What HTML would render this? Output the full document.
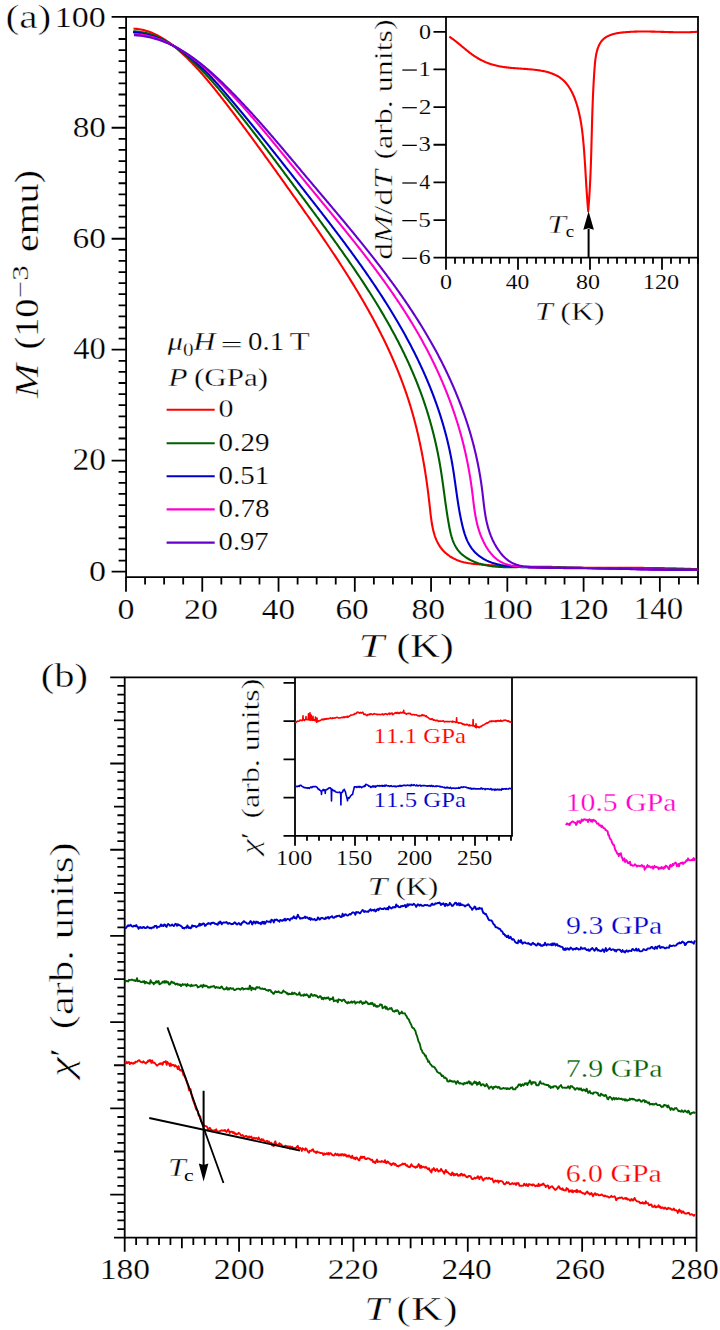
<!DOCTYPE html>
<html><head><meta charset="utf-8"><title>Figure</title>
<style>html,body{margin:0;padding:0;background:#fff;overflow:hidden;}svg{display:block;font-family:"Liberation Serif",serif;}text{font-kerning:none;}</style>
</head><body>
<svg width="720" height="1330" viewBox="0 0 720 1330">
<path d="M126.10 16.80 H698.00 V577.10 H126.10 Z" fill="none" stroke="#000" stroke-width="1.80"/>
<path d="M111.60 571.65H126.10M118.60 560.55H126.10M118.60 549.46H126.10M118.60 538.36H126.10M118.60 527.26H126.10M118.60 516.16H126.10M118.60 505.07H126.10M118.60 493.97H126.10M118.60 482.87H126.10M118.60 471.78H126.10M111.60 460.68H126.10M118.60 449.58H126.10M118.60 438.49H126.10M118.60 427.39H126.10M118.60 416.29H126.10M118.60 405.19H126.10M118.60 394.10H126.10M118.60 383.00H126.10M118.60 371.90H126.10M118.60 360.81H126.10M111.60 349.71H126.10M118.60 338.61H126.10M118.60 327.52H126.10M118.60 316.42H126.10M118.60 305.32H126.10M118.60 294.22H126.10M118.60 283.13H126.10M118.60 272.03H126.10M118.60 260.93H126.10M118.60 249.84H126.10M111.60 238.74H126.10M118.60 227.64H126.10M118.60 216.55H126.10M118.60 205.45H126.10M118.60 194.35H126.10M118.60 183.25H126.10M118.60 172.16H126.10M118.60 161.06H126.10M118.60 149.96H126.10M118.60 138.87H126.10M111.60 127.77H126.10M118.60 116.67H126.10M118.60 105.58H126.10M118.60 94.48H126.10M118.60 83.38H126.10M118.60 72.29H126.10M118.60 61.19H126.10M118.60 50.09H126.10M118.60 38.99H126.10M118.60 27.90H126.10M111.60 16.80H126.10M126.00 577.10V591.70M145.07 577.10V584.50M164.13 577.10V584.50M183.20 577.10V584.50M202.27 577.10V591.70M221.33 577.10V584.50M240.40 577.10V584.50M259.47 577.10V584.50M278.53 577.10V591.70M297.60 577.10V584.50M316.66 577.10V584.50M335.73 577.10V584.50M354.80 577.10V591.70M373.86 577.10V584.50M392.93 577.10V584.50M412.00 577.10V584.50M431.06 577.10V591.70M450.13 577.10V584.50M469.20 577.10V584.50M488.26 577.10V584.50M507.33 577.10V591.70M526.40 577.10V584.50M545.46 577.10V584.50M564.53 577.10V584.50M583.60 577.10V591.70M602.66 577.10V584.50M621.73 577.10V584.50M640.80 577.10V584.50M659.86 577.10V591.70M678.93 577.10V584.50M698.00 577.10V584.50" stroke="#000" stroke-width="1.80" fill="none"/>
<text font-family="Liberation Serif" stroke="#fff" stroke-width="0.25" font-size="30.50" fill="#000" transform="translate(88.91 581.35) scale(1.1140 1)" ><tspan >0</tspan></text>
<text font-family="Liberation Serif" stroke="#fff" stroke-width="0.25" font-size="30.50" fill="#000" transform="translate(72.43 470.38) scale(1.0965 1)" ><tspan >20</tspan></text>
<text font-family="Liberation Serif" stroke="#fff" stroke-width="0.25" font-size="30.50" fill="#000" transform="translate(73.26 359.41) scale(1.0681 1)" ><tspan >40</tspan></text>
<text font-family="Liberation Serif" stroke="#fff" stroke-width="0.25" font-size="30.50" fill="#000" transform="translate(72.46 248.44) scale(1.0953 1)" ><tspan >60</tspan></text>
<text font-family="Liberation Serif" stroke="#fff" stroke-width="0.25" font-size="30.50" fill="#000" transform="translate(72.63 137.47) scale(1.0896 1)" ><tspan >80</tspan></text>
<text font-family="Liberation Serif" stroke="#fff" stroke-width="0.25" font-size="30.50" fill="#000" transform="translate(54.81 26.50) scale(1.1167 1)" ><tspan >100</tspan></text>
<text font-family="Liberation Serif" stroke="#fff" stroke-width="0.25" font-size="30.50" fill="#000" transform="translate(117.61 618.70) scale(1.1140 1)" ><tspan >0</tspan></text>
<text font-family="Liberation Serif" stroke="#fff" stroke-width="0.25" font-size="30.50" fill="#000" transform="translate(184.11 618.70) scale(1.1108 1)" ><tspan >20</tspan></text>
<text font-family="Liberation Serif" stroke="#fff" stroke-width="0.25" font-size="30.50" fill="#000" transform="translate(261.85 618.70) scale(1.0872 1)" ><tspan >40</tspan></text>
<text font-family="Liberation Serif" stroke="#fff" stroke-width="0.25" font-size="30.50" fill="#000" transform="translate(335.47 618.70) scale(1.0918 1)" ><tspan >60</tspan></text>
<text font-family="Liberation Serif" stroke="#fff" stroke-width="0.25" font-size="30.50" fill="#000" transform="translate(411.52 618.70) scale(1.1037 1)" ><tspan >80</tspan></text>
<text font-family="Liberation Serif" stroke="#fff" stroke-width="0.25" font-size="30.50" fill="#000" transform="translate(481.60 618.70) scale(1.1191 1)" ><tspan >100</tspan></text>
<text font-family="Liberation Serif" stroke="#fff" stroke-width="0.25" font-size="30.50" fill="#000" transform="translate(557.63 618.70) scale(1.1096 1)" ><tspan >120</tspan></text>
<text font-family="Liberation Serif" stroke="#fff" stroke-width="0.25" font-size="30.50" fill="#000" transform="translate(633.82 618.70) scale(1.0762 1)" ><tspan >140</tspan></text>
<text font-family="Liberation Serif" stroke="#fff" stroke-width="0.46" font-size="33.00" fill="#000" transform="translate(5.38 28.00) scale(1.2572 1)" ><tspan >(a)</tspan></text>
<text font-family="Liberation Serif" stroke="#fff" stroke-width="0.50" font-size="34.00" fill="#000" transform="translate(358.39 657.00) scale(1.3534 1)" ><tspan font-style="italic">T</tspan></text>
<text font-family="Liberation Serif" stroke="#fff" stroke-width="0.37" font-size="34.00" fill="#000" transform="translate(396.49 657.00) scale(1.2101 1)" ><tspan >(K)</tspan></text>
<text font-family="Liberation Serif" stroke="#fff" stroke-width="0.37" font-size="34.00" fill="#000" transform="translate(38.20 398.12) rotate(-90) scale(1.2120 1)" ><tspan font-style="italic">M</tspan></text>
<text font-family="Liberation Serif" stroke="#fff" stroke-width="0.25" font-size="34.00" fill="#000" transform="translate(38.20 349.58) rotate(-90) scale(1.1238 1)" ><tspan >(10</tspan></text>
<text font-family="Liberation Serif" stroke="#fff" stroke-width="0.31" font-size="23.50" fill="#000" transform="translate(28.30 298.15) rotate(-90) scale(1.3223 1)" ><tspan >−3</tspan></text>
<text font-family="Liberation Serif" stroke="#fff" stroke-width="0.30" font-size="34.00" fill="#000" transform="translate(38.20 252.06) rotate(-90) scale(1.1755 1)" ><tspan >emu)</tspan></text>
<path d="M133.51 28.58 L135.00 28.69 L136.48 28.84 L137.94 29.02 L139.39 29.25 L140.83 29.51 L142.26 29.81 L143.67 30.14 L145.08 30.51 L146.47 30.91 L147.84 31.35 L149.21 31.82 L150.57 32.31 L151.91 32.84 L153.24 33.40 L154.56 33.99 L155.88 34.61 L157.17 35.25 L158.46 35.92 L159.74 36.61 L161.01 37.33 L162.27 38.07 L163.52 38.84 L164.76 39.62 L165.98 40.43 L167.20 41.26 L168.41 42.10 L169.61 42.97 L170.80 43.85 L171.98 44.75 L173.16 45.66 L174.32 46.59 L175.47 47.54 L176.62 48.49 L177.76 49.46 L178.89 50.44 L180.01 51.43 L181.13 52.43 L182.23 53.44 L183.33 54.45 L184.42 55.48 L185.51 56.51 L186.58 57.54 L187.65 58.59 L188.72 59.64 L189.77 60.69 L190.82 61.76 L191.87 62.83 L192.90 63.90 L193.93 64.98 L194.96 66.07 L195.98 67.16 L196.99 68.25 L198.00 69.35 L199.00 70.46 L200.00 71.57 L200.99 72.69 L201.98 73.80 L202.96 74.93 L203.93 76.06 L204.91 77.19 L205.87 78.32 L206.84 79.46 L207.80 80.60 L208.75 81.75 L209.70 82.90 L210.65 84.05 L211.60 85.20 L212.54 86.36 L213.48 87.52 L214.41 88.68 L215.34 89.84 L216.27 91.01 L217.20 92.17 L218.12 93.34 L219.04 94.51 L219.96 95.68 L220.88 96.86 L221.79 98.03 L222.70 99.20 L223.62 100.38 L224.53 101.55 L225.43 102.73 L226.34 103.90 L227.25 105.08 L228.15 106.26 L229.05 107.43 L229.95 108.61 L230.85 109.79 L231.75 110.97 L232.65 112.15 L233.54 113.32 L234.44 114.50 L235.33 115.68 L236.22 116.86 L237.11 118.05 L238.00 119.23 L238.89 120.41 L239.78 121.59 L240.67 122.77 L241.55 123.96 L242.43 125.14 L243.32 126.32 L244.20 127.51 L245.08 128.69 L245.96 129.88 L246.84 131.06 L247.72 132.25 L248.59 133.44 L249.47 134.62 L250.35 135.81 L251.22 137.00 L252.09 138.19 L252.97 139.37 L253.84 140.56 L254.71 141.75 L255.58 142.94 L256.45 144.13 L257.32 145.33 L258.19 146.52 L259.06 147.71 L259.92 148.90 L260.79 150.09 L261.66 151.29 L262.52 152.48 L263.39 153.68 L264.25 154.87 L265.11 156.07 L265.98 157.26 L266.84 158.46 L267.70 159.65 L268.57 160.85 L269.43 162.05 L270.29 163.25 L271.15 164.44 L272.01 165.64 L272.87 166.84 L273.73 168.04 L274.59 169.24 L275.45 170.44 L276.31 171.65 L277.17 172.85 L278.03 174.05 L278.89 175.25 L279.75 176.46 L280.60 177.66 L281.46 178.86 L282.32 180.07 L283.18 181.27 L284.04 182.48 L284.90 183.69 L285.76 184.89 L286.61 186.10 L287.47 187.31 L288.33 188.52 L289.19 189.73 L290.05 190.93 L290.91 192.14 L291.77 193.36 L292.63 194.57 L293.49 195.78 L294.35 196.99 L295.21 198.20 L296.07 199.41 L296.93 200.63 L297.79 201.84 L298.65 203.06 L299.51 204.27 L300.37 205.49 L301.22 206.70 L302.08 207.92 L302.94 209.14 L303.80 210.36 L304.66 211.58 L305.52 212.80 L306.37 214.02 L307.23 215.24 L308.09 216.46 L308.94 217.68 L309.80 218.90 L310.65 220.13 L311.51 221.35 L312.36 222.58 L313.22 223.80 L314.07 225.03 L314.92 226.26 L315.77 227.48 L316.62 228.71 L317.47 229.94 L318.32 231.17 L319.17 232.40 L320.01 233.64 L320.86 234.87 L321.70 236.10 L322.55 237.34 L323.39 238.57 L324.23 239.81 L325.07 241.04 L325.91 242.28 L326.75 243.52 L327.59 244.76 L328.42 246.00 L329.26 247.24 L330.09 248.48 L330.92 249.72 L331.75 250.97 L332.58 252.21 L333.41 253.46 L334.23 254.70 L335.06 255.95 L335.88 257.20 L336.70 258.45 L337.52 259.70 L338.34 260.95 L339.15 262.20 L339.97 263.45 L340.78 264.71 L341.59 265.96 L342.40 267.22 L343.21 268.48 L344.01 269.73 L344.82 270.99 L345.62 272.25 L346.42 273.51 L347.21 274.78 L348.01 276.04 L348.80 277.30 L349.59 278.57 L350.38 279.83 L351.17 281.10 L351.95 282.37 L352.73 283.64 L353.51 284.91 L354.29 286.18 L355.07 287.46 L355.84 288.73 L356.61 290.01 L357.38 291.28 L358.14 292.56 L358.91 293.84 L359.67 295.12 L360.42 296.40 L361.18 297.68 L361.93 298.97 L362.68 300.25 L363.43 301.54 L364.17 302.82 L364.91 304.11 L365.65 305.40 L366.39 306.69 L367.12 307.99 L367.85 309.28 L368.58 310.57 L369.30 311.87 L370.02 313.17 L370.74 314.47 L371.45 315.77 L372.16 317.07 L372.87 318.37 L373.58 319.68 L374.28 320.98 L374.98 322.29 L375.67 323.60 L376.36 324.90 L377.05 326.22 L377.74 327.53 L378.42 328.84 L379.10 330.16 L379.77 331.47 L380.44 332.79 L381.11 334.11 L381.77 335.43 L382.43 336.75 L383.09 338.08 L383.74 339.40 L384.39 340.73 L385.04 342.06 L385.68 343.39 L386.31 344.72 L386.95 346.05 L387.58 347.38 L388.20 348.72 L388.83 350.06 L389.44 351.40 L390.06 352.74 L390.67 354.08 L391.27 355.42 L391.87 356.77 L392.47 358.11 L393.06 359.46 L393.65 360.81 L394.24 362.16 L394.82 363.51 L395.39 364.87 L395.96 366.22 L396.53 367.58 L397.09 368.94 L397.65 370.30 L398.20 371.67 L398.75 373.03 L399.30 374.40 L399.84 375.76 L400.37 377.13 L400.90 378.50 L401.43 379.88 L401.95 381.25 L402.46 382.63 L402.98 384.00 L403.48 385.38 L403.98 386.77 L404.48 388.15 L404.97 389.53 L405.46 390.92 L405.94 392.31 L406.42 393.70 L406.89 395.09 L407.35 396.49 L407.81 397.88 L408.27 399.28 L408.72 400.68 L409.17 402.08 L409.61 403.48 L410.04 404.89 L410.47 406.29 L410.90 407.70 L411.32 409.11 L411.73 410.53 L412.14 411.94 L412.55 413.36 L412.95 414.77 L413.34 416.19 L413.73 417.61 L414.12 419.04 L414.50 420.46 L414.87 421.89 L415.25 423.32 L415.61 424.75 L415.98 426.18 L416.33 427.61 L416.69 429.05 L417.04 430.49 L417.38 431.93 L417.72 433.37 L418.05 434.81 L418.39 436.25 L418.71 437.70 L419.04 439.15 L419.35 440.60 L419.67 442.05 L419.98 443.50 L420.28 444.96 L420.58 446.42 L420.88 447.88 L421.18 449.34 L421.47 450.80 L421.75 452.26 L422.03 453.73 L422.31 455.20 L422.59 456.67 L422.86 458.14 L423.12 459.61 L423.39 461.09 L423.64 462.56 L423.90 464.04 L424.15 465.52 L424.40 467.00 L424.65 468.49 L424.89 469.97 L425.12 471.46 L425.36 472.95 L425.59 474.44 L425.82 475.93 L426.04 477.42 L426.26 478.92 L426.48 480.42 L426.69 481.92 L426.91 483.42 L427.11 484.92 L427.32 486.42 L427.52 487.93 L427.72 489.44 L427.92 490.95 L428.11 492.46 L428.30 493.97 L428.49 495.49 L428.67 497.00 L428.85 498.52 L429.03 500.04 L429.21 501.56 L429.38 503.09 L429.55 504.61 L429.72 506.14 L429.89 507.67 L430.05 509.19 L430.22 510.72 L430.39 512.25 L430.56 513.77 L430.74 515.29 L430.93 516.80 L431.12 518.31 L431.33 519.81 L431.55 521.30 L431.78 522.78 L432.02 524.25 L432.28 525.71 L432.56 527.15 L432.86 528.59 L433.18 530.00 L433.53 531.40 L433.90 532.79 L434.29 534.15 L434.71 535.50 L435.16 536.82 L435.64 538.13 L436.15 539.41 L436.70 540.67 L437.28 541.90 L437.89 543.11 L438.55 544.29 L439.24 545.44 L439.98 546.56 L440.76 547.65 L441.58 548.71 L442.44 549.74 L443.35 550.74 L444.29 551.70 L445.27 552.64 L446.29 553.53 L447.35 554.39 L448.43 555.22 L449.56 556.01 L450.71 556.77 L451.89 557.48 L453.10 558.16 L454.33 558.81 L455.59 559.41 L456.88 559.98 L458.19 560.50 L459.51 560.99 L460.86 561.43 L462.23 561.83 L463.61 562.20 L465.01 562.52 L466.42 562.81 L467.85 563.07 L469.28 563.29 L470.73 563.50 L472.18 563.68 L473.64 563.84 L475.11 563.99 L476.58 564.13 L478.05 564.26 L479.53 564.39 L481.00 564.51 L482.48 564.63 L483.95 564.75 L485.43 564.86 L486.91 564.98 L488.39 565.09 L489.86 565.19 L491.34 565.29 L492.82 565.40 L494.30 565.49 L495.78 565.59 L497.26 565.68 L498.74 565.77 L500.23 565.86 L501.71 565.95 L503.19 566.03 L504.68 566.11 L506.16 566.19 L507.64 566.26 L509.13 566.34 L510.61 566.41 L512.10 566.48 L513.59 566.54 L515.07 566.61 L516.56 566.67 L518.05 566.73 L519.53 566.79 L521.02 566.84 L522.51 566.90 L524.00 566.95 L525.49 567.00 L526.98 567.05 L528.47 567.10 L529.96 567.14 L531.45 567.18 L532.94 567.23 L534.43 567.27 L535.92 567.30 L537.41 567.34 L538.90 567.37 L540.39 567.41 L541.88 567.44 L543.37 567.47 L544.87 567.50 L546.36 567.53 L547.85 567.55 L549.34 567.58 L550.84 567.60 L552.33 567.62 L553.82 567.64 L555.32 567.66 L556.81 567.68 L558.30 567.70 L559.80 567.71 L561.29 567.73 L562.78 567.74 L564.28 567.75 L565.77 567.76 L567.27 567.78 L568.76 567.79 L570.25 567.79 L571.75 567.80 L573.24 567.81 L574.74 567.82 L576.23 567.82 L577.72 567.83 L579.22 567.83 L580.71 567.84 L582.20 567.84 L583.70 567.84 L585.19 567.85 L586.68 567.85 L588.18 567.85 L589.67 567.85 L591.16 567.85 L592.66 567.85 L594.15 567.85 L595.64 567.85 L597.14 567.85 L598.63 567.85 L600.12 567.85 L601.61 567.85 L603.10 567.85 L604.60 567.85 L606.09 567.85 L607.58 567.84 L609.07 567.84 L610.56 567.84 L612.05 567.84 L613.54 567.84 L615.03 567.84 L616.52 567.84 L618.01 567.84 L619.50 567.84 L620.99 567.84 L622.47 567.84 L623.96 567.84 L625.45 567.85 L626.94 567.85 L628.42 567.85 L629.91 567.85 L631.40 567.86 L632.88 567.86 L634.37 567.87 L635.85 567.87 L637.34 567.88 L638.82 567.89 L640.30 567.90 L641.79 567.90 L643.27 567.91 L644.75 567.93 L646.23 567.94 L647.71 567.95 L649.19 567.96 L650.67 567.98 L652.15 567.99 L653.63 568.01 L655.11 568.03 L656.59 568.05 L658.07 568.07 L659.54 568.09 L661.02 568.11 L662.49 568.14 L663.97 568.16 L665.44 568.19 L666.92 568.22 L668.39 568.25 L669.86 568.28 L671.33 568.31 L672.80 568.35 L674.27 568.38 L675.74 568.42 L677.21 568.46 L678.68 568.50 L680.15 568.54 L681.61 568.59 L683.08 568.63 L684.55 568.68 L686.01 568.73 L687.47 568.78 L688.94 568.84 L690.40 568.89 L691.86 568.95 L693.32 569.01 L694.78 569.07 L696.24 569.14 L697.70 569.21" fill="none" stroke="#ff0000" stroke-width="2.1" stroke-linejoin="round"/>
<path d="M133.35 31.26 L134.86 31.33 L136.35 31.43 L137.84 31.57 L139.31 31.74 L140.77 31.95 L142.22 32.19 L143.66 32.47 L145.08 32.78 L146.50 33.11 L147.90 33.48 L149.29 33.88 L150.68 34.31 L152.05 34.77 L153.41 35.25 L154.76 35.76 L156.10 36.30 L157.43 36.86 L158.75 37.45 L160.06 38.06 L161.36 38.70 L162.65 39.36 L163.93 40.04 L165.21 40.74 L166.47 41.46 L167.72 42.20 L168.97 42.95 L170.20 43.73 L171.43 44.52 L172.65 45.33 L173.85 46.16 L175.06 47.00 L176.25 47.85 L177.43 48.72 L178.61 49.60 L179.78 50.50 L180.94 51.40 L182.09 52.31 L183.24 53.24 L184.37 54.17 L185.50 55.11 L186.63 56.06 L187.74 57.02 L188.85 57.99 L189.95 58.96 L191.05 59.94 L192.14 60.93 L193.22 61.93 L194.30 62.93 L195.37 63.94 L196.43 64.96 L197.49 65.98 L198.54 67.01 L199.59 68.04 L200.63 69.09 L201.66 70.13 L202.69 71.19 L203.72 72.25 L204.74 73.31 L205.75 74.38 L206.76 75.46 L207.77 76.54 L208.77 77.62 L209.77 78.71 L210.76 79.80 L211.75 80.90 L212.73 82.00 L213.71 83.11 L214.68 84.21 L215.66 85.33 L216.62 86.44 L217.59 87.56 L218.55 88.68 L219.51 89.81 L220.46 90.93 L221.42 92.06 L222.37 93.19 L223.31 94.33 L224.26 95.46 L225.20 96.60 L226.14 97.74 L227.07 98.88 L228.01 100.02 L228.94 101.17 L229.87 102.31 L230.80 103.46 L231.73 104.60 L232.66 105.75 L233.58 106.89 L234.50 108.04 L235.42 109.19 L236.34 110.34 L237.26 111.48 L238.18 112.63 L239.09 113.78 L240.01 114.93 L240.92 116.09 L241.83 117.24 L242.74 118.39 L243.65 119.54 L244.56 120.69 L245.46 121.85 L246.37 123.00 L247.27 124.16 L248.17 125.31 L249.08 126.47 L249.98 127.63 L250.88 128.78 L251.77 129.94 L252.67 131.10 L253.57 132.26 L254.46 133.42 L255.35 134.58 L256.25 135.74 L257.14 136.90 L258.03 138.06 L258.92 139.22 L259.81 140.38 L260.70 141.54 L261.59 142.71 L262.47 143.87 L263.36 145.03 L264.24 146.20 L265.13 147.36 L266.01 148.53 L266.90 149.69 L267.78 150.86 L268.66 152.03 L269.54 153.19 L270.42 154.36 L271.30 155.53 L272.18 156.70 L273.06 157.86 L273.94 159.03 L274.82 160.20 L275.70 161.37 L276.58 162.54 L277.45 163.71 L278.33 164.88 L279.21 166.06 L280.09 167.23 L280.96 168.40 L281.84 169.57 L282.71 170.74 L283.59 171.92 L284.47 173.09 L285.34 174.26 L286.22 175.44 L287.09 176.61 L287.97 177.79 L288.84 178.96 L289.72 180.14 L290.59 181.32 L291.47 182.49 L292.34 183.67 L293.22 184.85 L294.09 186.02 L294.97 187.20 L295.85 188.38 L296.72 189.56 L297.60 190.73 L298.48 191.91 L299.35 193.09 L300.23 194.27 L301.11 195.45 L301.99 196.63 L302.86 197.81 L303.74 198.99 L304.62 200.17 L305.50 201.35 L306.38 202.54 L307.26 203.72 L308.13 204.90 L309.01 206.08 L309.89 207.27 L310.77 208.45 L311.65 209.63 L312.53 210.82 L313.40 212.00 L314.28 213.19 L315.16 214.38 L316.04 215.56 L316.91 216.75 L317.79 217.94 L318.67 219.12 L319.54 220.31 L320.42 221.50 L321.29 222.69 L322.17 223.88 L323.04 225.07 L323.91 226.26 L324.78 227.46 L325.66 228.65 L326.53 229.84 L327.40 231.04 L328.27 232.23 L329.14 233.43 L330.00 234.62 L330.87 235.82 L331.74 237.02 L332.60 238.21 L333.47 239.41 L334.33 240.61 L335.19 241.81 L336.05 243.01 L336.91 244.21 L337.77 245.42 L338.63 246.62 L339.49 247.82 L340.34 249.03 L341.20 250.24 L342.05 251.44 L342.90 252.65 L343.75 253.86 L344.60 255.07 L345.45 256.28 L346.30 257.49 L347.14 258.70 L347.98 259.91 L348.83 261.13 L349.67 262.34 L350.51 263.56 L351.34 264.77 L352.18 265.99 L353.01 267.21 L353.84 268.43 L354.67 269.65 L355.50 270.87 L356.33 272.10 L357.15 273.32 L357.97 274.55 L358.79 275.77 L359.61 277.00 L360.43 278.23 L361.24 279.46 L362.06 280.69 L362.87 281.92 L363.67 283.15 L364.48 284.38 L365.28 285.62 L366.09 286.86 L366.89 288.09 L367.68 289.33 L368.48 290.57 L369.27 291.81 L370.06 293.06 L370.85 294.30 L371.63 295.54 L372.41 296.79 L373.19 298.04 L373.97 299.29 L374.75 300.54 L375.52 301.79 L376.29 303.04 L377.05 304.29 L377.82 305.55 L378.58 306.81 L379.34 308.07 L380.09 309.32 L380.85 310.59 L381.60 311.85 L382.34 313.11 L383.09 314.38 L383.83 315.64 L384.57 316.91 L385.30 318.18 L386.03 319.45 L386.76 320.73 L387.49 322.00 L388.21 323.28 L388.93 324.55 L389.64 325.83 L390.36 327.11 L391.07 328.39 L391.77 329.68 L392.47 330.96 L393.17 332.25 L393.87 333.54 L394.56 334.83 L395.25 336.12 L395.93 337.41 L396.61 338.71 L397.29 340.00 L397.97 341.30 L398.64 342.60 L399.30 343.90 L399.97 345.21 L400.63 346.51 L401.28 347.82 L401.93 349.13 L402.58 350.44 L403.22 351.75 L403.86 353.06 L404.50 354.38 L405.13 355.70 L405.76 357.02 L406.38 358.34 L407.00 359.66 L407.61 360.99 L408.23 362.31 L408.83 363.64 L409.43 364.97 L410.03 366.30 L410.63 367.64 L411.22 368.98 L411.80 370.31 L412.38 371.65 L412.96 373.00 L413.53 374.34 L414.10 375.69 L414.66 377.03 L415.22 378.38 L415.77 379.74 L416.32 381.09 L416.86 382.45 L417.40 383.81 L417.94 385.17 L418.47 386.53 L418.99 387.89 L419.51 389.26 L420.03 390.63 L420.54 392.00 L421.04 393.37 L421.54 394.75 L422.04 396.13 L422.53 397.51 L423.02 398.89 L423.50 400.27 L423.97 401.66 L424.44 403.05 L424.91 404.44 L425.37 405.83 L425.82 407.22 L426.27 408.62 L426.72 410.02 L427.16 411.42 L427.59 412.82 L428.02 414.22 L428.45 415.63 L428.87 417.03 L429.28 418.44 L429.69 419.86 L430.10 421.27 L430.50 422.68 L430.89 424.10 L431.28 425.52 L431.67 426.94 L432.05 428.36 L432.42 429.78 L432.79 431.21 L433.16 432.64 L433.52 434.07 L433.87 435.50 L434.22 436.93 L434.57 438.36 L434.91 439.80 L435.24 441.23 L435.57 442.67 L435.90 444.11 L436.22 445.55 L436.53 446.99 L436.84 448.44 L437.14 449.88 L437.44 451.33 L437.74 452.78 L438.03 454.23 L438.31 455.68 L438.59 457.13 L438.87 458.58 L439.14 460.04 L439.40 461.49 L439.66 462.95 L439.91 464.41 L440.16 465.87 L440.41 467.33 L440.65 468.79 L440.88 470.26 L441.11 471.72 L441.34 473.18 L441.56 474.65 L441.78 476.12 L442.00 477.58 L442.21 479.05 L442.42 480.52 L442.63 481.99 L442.83 483.46 L443.04 484.93 L443.24 486.39 L443.44 487.86 L443.64 489.33 L443.84 490.80 L444.04 492.27 L444.23 493.74 L444.43 495.21 L444.63 496.67 L444.83 498.14 L445.03 499.61 L445.23 501.07 L445.44 502.54 L445.64 504.00 L445.85 505.47 L446.06 506.93 L446.27 508.39 L446.48 509.85 L446.70 511.31 L446.92 512.77 L447.14 514.22 L447.37 515.68 L447.60 517.13 L447.84 518.58 L448.08 520.03 L448.33 521.48 L448.58 522.92 L448.84 524.37 L449.10 525.81 L449.37 527.25 L449.65 528.68 L449.94 530.11 L450.25 531.52 L450.58 532.93 L450.92 534.33 L451.29 535.71 L451.68 537.08 L452.11 538.43 L452.56 539.76 L453.04 541.08 L453.56 542.37 L454.11 543.63 L454.71 544.88 L455.35 546.09 L456.03 547.27 L456.76 548.43 L457.54 549.55 L458.37 550.64 L459.26 551.69 L460.21 552.71 L461.21 553.69 L462.26 554.63 L463.36 555.53 L464.51 556.39 L465.69 557.22 L466.91 558.01 L468.16 558.76 L469.44 559.48 L470.74 560.15 L472.06 560.79 L473.40 561.39 L474.75 561.96 L476.10 562.48 L477.48 562.98 L478.86 563.44 L480.25 563.86 L481.65 564.25 L483.05 564.62 L484.47 564.95 L485.90 565.26 L487.33 565.53 L488.77 565.79 L490.22 566.01 L491.68 566.22 L493.14 566.40 L494.61 566.55 L496.08 566.69 L497.56 566.81 L499.05 566.91 L500.53 566.99 L502.03 567.06 L503.52 567.11 L505.02 567.15 L506.52 567.17 L508.03 567.19 L509.54 567.19 L511.04 567.18 L512.55 567.17 L514.07 567.14 L515.58 567.12 L517.09 567.08 L518.60 567.05 L520.11 567.01 L521.62 566.97 L523.13 566.93 L524.64 566.89 L526.14 566.85 L527.64 566.81 L529.14 566.78 L530.64 566.75 L532.13 566.73 L533.62 566.72 L535.10 566.71 L536.59 566.71 L538.07 566.71 L539.54 566.71 L541.02 566.72 L542.49 566.74 L543.96 566.76 L545.42 566.78 L546.89 566.81 L548.35 566.84 L549.81 566.87 L551.27 566.91 L552.73 566.95 L554.18 566.99 L555.64 567.03 L557.09 567.08 L558.54 567.12 L559.99 567.17 L561.44 567.22 L562.89 567.27 L564.34 567.33 L565.79 567.38 L567.24 567.43 L568.69 567.49 L570.14 567.54 L571.59 567.59 L573.04 567.65 L574.50 567.70 L575.95 567.75 L577.40 567.80 L578.85 567.85 L580.31 567.89 L581.77 567.94 L583.22 567.98 L584.68 568.02 L586.14 568.06 L587.60 568.10 L589.07 568.14 L590.53 568.17 L591.99 568.20 L593.46 568.24 L594.93 568.27 L596.39 568.29 L597.86 568.32 L599.33 568.35 L600.80 568.37 L602.27 568.40 L603.74 568.42 L605.21 568.44 L606.69 568.46 L608.16 568.48 L609.64 568.50 L611.11 568.52 L612.59 568.54 L614.06 568.55 L615.54 568.57 L617.01 568.58 L618.49 568.60 L619.97 568.61 L621.45 568.62 L622.92 568.63 L624.40 568.65 L625.88 568.66 L627.36 568.67 L628.84 568.68 L630.32 568.69 L631.80 568.70 L633.28 568.71 L634.76 568.72 L636.24 568.73 L637.71 568.74 L639.19 568.74 L640.67 568.75 L642.15 568.76 L643.63 568.77 L645.11 568.78 L646.59 568.79 L648.06 568.80 L649.54 568.81 L651.02 568.82 L652.50 568.83 L653.97 568.85 L655.45 568.86 L656.92 568.87 L658.40 568.88 L659.87 568.90 L661.35 568.91 L662.82 568.93 L664.29 568.94 L665.76 568.96 L667.23 568.98 L668.70 569.00 L670.17 569.01 L671.64 569.03 L673.11 569.06 L674.57 569.08 L676.04 569.10 L677.50 569.13 L678.97 569.15 L680.43 569.18 L681.89 569.21 L683.35 569.24 L684.81 569.27 L686.27 569.30 L687.72 569.34 L689.18 569.37 L690.63 569.41 L692.08 569.45 L693.53 569.49 L694.98 569.53 L696.43 569.58 L697.88 569.62" fill="none" stroke="#006000" stroke-width="2.1" stroke-linejoin="round"/>
<path d="M133.03 32.15 L134.57 32.33 L136.11 32.52 L137.63 32.75 L139.14 32.99 L140.63 33.26 L142.11 33.54 L143.58 33.85 L145.04 34.18 L146.49 34.53 L147.92 34.90 L149.34 35.30 L150.75 35.71 L152.15 36.14 L153.54 36.59 L154.91 37.06 L156.28 37.55 L157.63 38.05 L158.97 38.58 L160.30 39.12 L161.62 39.68 L162.94 40.26 L164.24 40.86 L165.53 41.47 L166.81 42.10 L168.08 42.75 L169.34 43.41 L170.60 44.09 L171.84 44.78 L173.07 45.49 L174.30 46.21 L175.52 46.95 L176.73 47.70 L177.93 48.47 L179.12 49.25 L180.30 50.05 L181.48 50.85 L182.65 51.67 L183.81 52.51 L184.96 53.36 L186.11 54.21 L187.25 55.08 L188.38 55.97 L189.51 56.86 L190.62 57.77 L191.74 58.68 L192.84 59.61 L193.94 60.54 L195.03 61.49 L196.12 62.45 L197.20 63.41 L198.27 64.39 L199.34 65.37 L200.41 66.37 L201.46 67.37 L202.52 68.38 L203.56 69.39 L204.61 70.42 L205.64 71.45 L206.68 72.49 L207.70 73.54 L208.73 74.59 L209.74 75.65 L210.76 76.71 L211.77 77.78 L212.77 78.86 L213.78 79.94 L214.77 81.02 L215.77 82.11 L216.76 83.21 L217.75 84.31 L218.73 85.41 L219.71 86.51 L220.69 87.62 L221.66 88.73 L222.63 89.85 L223.60 90.97 L224.57 92.08 L225.53 93.20 L226.50 94.33 L227.46 95.45 L228.41 96.57 L229.37 97.70 L230.32 98.82 L231.27 99.95 L232.22 101.07 L233.17 102.20 L234.12 103.33 L235.07 104.45 L236.01 105.58 L236.95 106.70 L237.89 107.83 L238.83 108.96 L239.77 110.08 L240.71 111.21 L241.64 112.34 L242.58 113.46 L243.51 114.59 L244.44 115.72 L245.37 116.84 L246.30 117.97 L247.23 119.10 L248.15 120.23 L249.08 121.35 L250.00 122.48 L250.93 123.61 L251.85 124.74 L252.77 125.87 L253.69 127.00 L254.61 128.12 L255.52 129.25 L256.44 130.38 L257.36 131.51 L258.27 132.64 L259.18 133.77 L260.10 134.90 L261.01 136.03 L261.92 137.16 L262.83 138.29 L263.74 139.42 L264.65 140.56 L265.56 141.69 L266.46 142.82 L267.37 143.95 L268.28 145.08 L269.18 146.21 L270.09 147.35 L270.99 148.48 L271.89 149.61 L272.80 150.75 L273.70 151.88 L274.60 153.01 L275.50 154.15 L276.40 155.28 L277.30 156.42 L278.20 157.55 L279.10 158.69 L280.00 159.82 L280.90 160.96 L281.80 162.10 L282.70 163.23 L283.60 164.37 L284.50 165.51 L285.39 166.64 L286.29 167.78 L287.19 168.92 L288.09 170.06 L288.99 171.20 L289.88 172.33 L290.78 173.47 L291.68 174.61 L292.58 175.75 L293.47 176.89 L294.37 178.04 L295.27 179.18 L296.17 180.32 L297.06 181.46 L297.96 182.60 L298.86 183.74 L299.76 184.89 L300.66 186.03 L301.56 187.17 L302.46 188.32 L303.35 189.46 L304.25 190.61 L305.15 191.75 L306.05 192.90 L306.95 194.05 L307.85 195.19 L308.75 196.34 L309.65 197.49 L310.55 198.64 L311.45 199.78 L312.35 200.93 L313.25 202.08 L314.15 203.23 L315.04 204.39 L315.94 205.54 L316.84 206.69 L317.74 207.84 L318.64 208.99 L319.53 210.15 L320.43 211.30 L321.33 212.46 L322.22 213.61 L323.12 214.77 L324.01 215.93 L324.91 217.08 L325.80 218.24 L326.69 219.40 L327.58 220.56 L328.48 221.72 L329.37 222.88 L330.26 224.04 L331.15 225.21 L332.04 226.37 L332.92 227.53 L333.81 228.70 L334.70 229.86 L335.58 231.03 L336.47 232.20 L337.35 233.36 L338.23 234.53 L339.12 235.70 L340.00 236.87 L340.88 238.04 L341.75 239.21 L342.63 240.39 L343.51 241.56 L344.38 242.74 L345.26 243.91 L346.13 245.09 L347.00 246.26 L347.87 247.44 L348.74 248.62 L349.61 249.80 L350.47 250.98 L351.34 252.16 L352.20 253.35 L353.06 254.53 L353.92 255.72 L354.78 256.90 L355.64 258.09 L356.49 259.28 L357.35 260.47 L358.20 261.66 L359.05 262.85 L359.90 264.04 L360.75 265.23 L361.59 266.43 L362.44 267.62 L363.28 268.82 L364.12 270.02 L364.96 271.22 L365.79 272.42 L366.63 273.62 L367.46 274.82 L368.29 276.02 L369.12 277.23 L369.95 278.43 L370.77 279.64 L371.59 280.85 L372.41 282.06 L373.23 283.27 L374.05 284.48 L374.86 285.69 L375.67 286.91 L376.48 288.12 L377.29 289.34 L378.09 290.56 L378.90 291.78 L379.70 293.00 L380.49 294.22 L381.29 295.44 L382.08 296.67 L382.87 297.89 L383.66 299.12 L384.44 300.35 L385.23 301.58 L386.01 302.81 L386.78 304.05 L387.56 305.28 L388.33 306.52 L389.10 307.75 L389.87 308.99 L390.63 310.23 L391.39 311.47 L392.15 312.72 L392.90 313.96 L393.66 315.21 L394.40 316.46 L395.15 317.71 L395.89 318.96 L396.63 320.21 L397.37 321.46 L398.11 322.72 L398.84 323.97 L399.57 325.23 L400.29 326.49 L401.01 327.76 L401.73 329.02 L402.45 330.28 L403.16 331.55 L403.87 332.82 L404.57 334.09 L405.27 335.36 L405.97 336.63 L406.67 337.91 L407.36 339.18 L408.05 340.46 L408.73 341.74 L409.41 343.02 L410.09 344.31 L410.77 345.59 L411.44 346.88 L412.10 348.17 L412.77 349.46 L413.43 350.75 L414.08 352.04 L414.74 353.34 L415.38 354.64 L416.03 355.94 L416.67 357.24 L417.31 358.54 L417.94 359.85 L418.57 361.15 L419.19 362.46 L419.81 363.77 L420.43 365.09 L421.04 366.40 L421.65 367.72 L422.26 369.03 L422.86 370.35 L423.45 371.68 L424.05 373.00 L424.64 374.33 L425.22 375.65 L425.80 376.98 L426.37 378.32 L426.95 379.65 L427.51 380.99 L428.07 382.32 L428.63 383.66 L429.19 385.01 L429.73 386.35 L430.28 387.70 L430.82 389.05 L431.35 390.40 L431.89 391.75 L432.41 393.10 L432.93 394.46 L433.45 395.82 L433.96 397.18 L434.47 398.54 L434.97 399.90 L435.47 401.27 L435.96 402.64 L436.45 404.01 L436.93 405.38 L437.41 406.75 L437.88 408.13 L438.35 409.51 L438.82 410.89 L439.27 412.27 L439.73 413.65 L440.17 415.04 L440.62 416.43 L441.06 417.82 L441.49 419.21 L441.91 420.60 L442.34 422.00 L442.75 423.39 L443.16 424.79 L443.57 426.19 L443.97 427.60 L444.37 429.00 L444.76 430.41 L445.14 431.82 L445.52 433.23 L445.89 434.64 L446.26 436.05 L446.62 437.47 L446.98 438.88 L447.33 440.30 L447.67 441.73 L448.01 443.15 L448.34 444.57 L448.67 446.00 L448.99 447.43 L449.31 448.86 L449.62 450.29 L449.92 451.73 L450.22 453.16 L450.51 454.60 L450.80 456.04 L451.08 457.48 L451.35 458.92 L451.62 460.37 L451.88 461.81 L452.14 463.26 L452.39 464.71 L452.63 466.16 L452.87 467.62 L453.11 469.07 L453.33 470.53 L453.56 471.98 L453.78 473.44 L454.00 474.90 L454.21 476.36 L454.43 477.82 L454.64 479.28 L454.85 480.74 L455.05 482.20 L455.26 483.66 L455.46 485.13 L455.67 486.59 L455.87 488.05 L456.08 489.51 L456.28 490.97 L456.49 492.43 L456.70 493.89 L456.91 495.35 L457.12 496.81 L457.33 498.27 L457.55 499.72 L457.77 501.18 L458.00 502.63 L458.22 504.09 L458.46 505.54 L458.70 506.99 L458.94 508.44 L459.19 509.88 L459.44 511.33 L459.70 512.77 L459.97 514.21 L460.25 515.65 L460.53 517.08 L460.82 518.51 L461.12 519.94 L461.43 521.37 L461.74 522.80 L462.07 524.22 L462.40 525.64 L462.75 527.05 L463.11 528.46 L463.48 529.86 L463.87 531.25 L464.28 532.63 L464.71 534.00 L465.17 535.35 L465.64 536.69 L466.14 538.01 L466.68 539.31 L467.24 540.60 L467.83 541.86 L468.45 543.09 L469.11 544.30 L469.81 545.48 L470.55 546.64 L471.32 547.76 L472.13 548.86 L472.97 549.92 L473.85 550.96 L474.77 551.96 L475.72 552.93 L476.70 553.86 L477.71 554.76 L478.76 555.62 L479.83 556.45 L480.94 557.24 L482.07 557.99 L483.23 558.71 L484.42 559.38 L485.63 560.02 L486.87 560.63 L488.14 561.19 L489.42 561.73 L490.73 562.23 L492.06 562.70 L493.41 563.13 L494.78 563.54 L496.16 563.92 L497.56 564.28 L498.98 564.60 L500.42 564.91 L501.86 565.18 L503.32 565.44 L504.79 565.67 L506.28 565.89 L507.77 566.08 L509.27 566.25 L510.78 566.41 L512.29 566.55 L513.81 566.68 L515.33 566.79 L516.86 566.89 L518.39 566.98 L519.92 567.05 L521.46 567.12 L522.99 567.18 L524.52 567.23 L526.05 567.27 L527.57 567.31 L529.09 567.35 L530.60 567.38 L532.11 567.41 L533.61 567.44 L535.11 567.47 L536.59 567.49 L538.08 567.51 L539.56 567.54 L541.03 567.56 L542.50 567.57 L543.96 567.59 L545.42 567.61 L546.88 567.62 L548.33 567.64 L549.78 567.65 L551.23 567.66 L552.67 567.67 L554.11 567.68 L555.55 567.69 L556.98 567.70 L558.41 567.71 L559.85 567.72 L561.28 567.73 L562.70 567.74 L564.13 567.75 L565.56 567.76 L566.98 567.77 L568.41 567.78 L569.84 567.79 L571.26 567.80 L572.69 567.81 L574.12 567.82 L575.54 567.84 L576.97 567.85 L578.41 567.87 L579.84 567.88 L581.27 567.90 L582.71 567.92 L584.15 567.94 L585.59 567.96 L587.03 567.98 L588.47 568.00 L589.92 568.03 L591.37 568.05 L592.81 568.08 L594.26 568.11 L595.72 568.13 L597.17 568.16 L598.62 568.19 L600.08 568.22 L601.53 568.25 L602.99 568.28 L604.45 568.31 L605.91 568.35 L607.37 568.38 L608.83 568.41 L610.30 568.45 L611.76 568.48 L613.23 568.52 L614.69 568.55 L616.16 568.59 L617.63 568.62 L619.09 568.66 L620.56 568.69 L622.03 568.73 L623.50 568.77 L624.97 568.80 L626.44 568.84 L627.91 568.87 L629.38 568.91 L630.85 568.95 L632.32 568.98 L633.79 569.02 L635.26 569.05 L636.73 569.09 L638.20 569.12 L639.68 569.16 L641.15 569.19 L642.62 569.23 L644.09 569.26 L645.56 569.29 L647.03 569.32 L648.50 569.36 L649.96 569.39 L651.43 569.42 L652.90 569.45 L654.37 569.48 L655.83 569.50 L657.30 569.53 L658.76 569.56 L660.23 569.58 L661.69 569.61 L663.15 569.63 L664.61 569.66 L666.07 569.68 L667.53 569.70 L668.99 569.72 L670.45 569.74 L671.90 569.75 L673.36 569.77 L674.81 569.78 L676.26 569.80 L677.71 569.81 L679.16 569.82 L680.61 569.83 L682.05 569.84 L683.50 569.84 L684.94 569.85 L686.38 569.85 L687.82 569.85 L689.25 569.85 L690.69 569.85 L692.12 569.85 L693.55 569.84 L694.98 569.84 L696.41 569.83 L697.83 569.82" fill="none" stroke="#0000cc" stroke-width="2.1" stroke-linejoin="round"/>
<path d="M133.84 33.94 L135.28 34.03 L136.72 34.15 L138.15 34.30 L139.57 34.46 L140.99 34.65 L142.40 34.87 L143.80 35.10 L145.19 35.36 L146.58 35.64 L147.96 35.94 L149.33 36.26 L150.69 36.61 L152.05 36.97 L153.40 37.35 L154.74 37.76 L156.08 38.18 L157.41 38.62 L158.73 39.09 L160.05 39.57 L161.36 40.07 L162.66 40.59 L163.96 41.12 L165.25 41.67 L166.53 42.25 L167.81 42.83 L169.08 43.44 L170.34 44.06 L171.60 44.69 L172.85 45.35 L174.10 46.01 L175.34 46.70 L176.58 47.40 L177.80 48.11 L179.03 48.84 L180.24 49.58 L181.45 50.33 L182.66 51.10 L183.86 51.88 L185.05 52.67 L186.24 53.48 L187.42 54.30 L188.60 55.13 L189.77 55.97 L190.94 56.82 L192.10 57.68 L193.25 58.56 L194.41 59.44 L195.55 60.34 L196.69 61.24 L197.83 62.16 L198.96 63.08 L200.08 64.01 L201.20 64.95 L202.32 65.90 L203.43 66.85 L204.54 67.82 L205.64 68.79 L206.74 69.77 L207.83 70.75 L208.92 71.74 L210.00 72.74 L211.08 73.74 L212.16 74.75 L213.23 75.76 L214.29 76.78 L215.36 77.81 L216.42 78.83 L217.47 79.86 L218.52 80.90 L219.57 81.94 L220.61 82.98 L221.65 84.02 L222.68 85.07 L223.72 86.12 L224.74 87.17 L225.77 88.22 L226.79 89.28 L227.80 90.33 L228.82 91.39 L229.83 92.45 L230.84 93.51 L231.84 94.58 L232.84 95.64 L233.84 96.71 L234.83 97.78 L235.82 98.85 L236.81 99.92 L237.80 101.00 L238.78 102.07 L239.76 103.15 L240.73 104.23 L241.71 105.31 L242.68 106.39 L243.65 107.47 L244.61 108.56 L245.58 109.64 L246.54 110.73 L247.50 111.82 L248.45 112.91 L249.41 114.00 L250.36 115.09 L251.31 116.19 L252.25 117.28 L253.20 118.38 L254.14 119.48 L255.08 120.58 L256.02 121.68 L256.96 122.78 L257.89 123.88 L258.83 124.98 L259.76 126.09 L260.69 127.19 L261.62 128.30 L262.55 129.40 L263.47 130.51 L264.40 131.62 L265.32 132.73 L266.24 133.84 L267.16 134.95 L268.08 136.06 L269.00 137.17 L269.92 138.28 L270.83 139.40 L271.75 140.51 L272.66 141.63 L273.57 142.74 L274.49 143.86 L275.40 144.97 L276.31 146.09 L277.22 147.21 L278.13 148.32 L279.04 149.44 L279.94 150.56 L280.85 151.68 L281.76 152.80 L282.67 153.92 L283.57 155.03 L284.48 156.15 L285.39 157.27 L286.29 158.39 L287.20 159.51 L288.10 160.63 L289.01 161.75 L289.92 162.87 L290.82 163.99 L291.73 165.11 L292.64 166.23 L293.54 167.35 L294.45 168.47 L295.36 169.59 L296.27 170.71 L297.18 171.83 L298.09 172.95 L299.00 174.07 L299.91 175.19 L300.82 176.30 L301.73 177.42 L302.64 178.54 L303.56 179.66 L304.47 180.77 L305.38 181.89 L306.30 183.01 L307.22 184.12 L308.13 185.24 L309.05 186.36 L309.96 187.47 L310.88 188.59 L311.80 189.70 L312.72 190.82 L313.63 191.94 L314.55 193.05 L315.47 194.17 L316.39 195.28 L317.31 196.40 L318.23 197.52 L319.15 198.63 L320.06 199.75 L320.98 200.87 L321.90 201.98 L322.82 203.10 L323.74 204.22 L324.66 205.33 L325.58 206.45 L326.50 207.57 L327.42 208.69 L328.33 209.80 L329.25 210.92 L330.17 212.04 L331.09 213.16 L332.00 214.28 L332.92 215.40 L333.84 216.52 L334.75 217.64 L335.67 218.76 L336.58 219.88 L337.50 221.00 L338.41 222.13 L339.32 223.25 L340.24 224.37 L341.15 225.50 L342.06 226.62 L342.97 227.75 L343.88 228.87 L344.79 230.00 L345.70 231.13 L346.60 232.25 L347.51 233.38 L348.42 234.51 L349.32 235.64 L350.22 236.77 L351.13 237.90 L352.03 239.03 L352.93 240.17 L353.83 241.30 L354.73 242.44 L355.63 243.57 L356.52 244.71 L357.42 245.84 L358.31 246.98 L359.20 248.12 L360.10 249.26 L360.99 250.40 L361.88 251.54 L362.76 252.69 L363.65 253.83 L364.53 254.97 L365.42 256.12 L366.30 257.27 L367.18 258.41 L368.06 259.56 L368.93 260.71 L369.81 261.87 L370.68 263.02 L371.56 264.17 L372.43 265.33 L373.29 266.48 L374.16 267.64 L375.03 268.80 L375.89 269.96 L376.75 271.12 L377.61 272.28 L378.47 273.45 L379.32 274.61 L380.18 275.78 L381.03 276.95 L381.88 278.12 L382.73 279.29 L383.57 280.46 L384.42 281.64 L385.26 282.81 L386.10 283.99 L386.93 285.17 L387.77 286.35 L388.60 287.53 L389.43 288.71 L390.26 289.90 L391.08 291.08 L391.91 292.27 L392.73 293.46 L393.55 294.65 L394.36 295.84 L395.17 297.04 L395.98 298.24 L396.79 299.43 L397.60 300.63 L398.40 301.84 L399.20 303.04 L400.00 304.25 L400.79 305.45 L401.58 306.66 L402.37 307.87 L403.16 309.09 L403.94 310.30 L404.72 311.52 L405.50 312.74 L406.28 313.96 L407.05 315.18 L407.82 316.41 L408.58 317.63 L409.34 318.86 L410.10 320.09 L410.86 321.33 L411.61 322.56 L412.36 323.80 L413.11 325.04 L413.85 326.28 L414.59 327.53 L415.33 328.77 L416.06 330.02 L416.79 331.27 L417.52 332.53 L418.24 333.78 L418.96 335.04 L419.68 336.30 L420.39 337.56 L421.10 338.83 L421.81 340.09 L422.51 341.36 L423.21 342.64 L423.90 343.91 L424.60 345.19 L425.28 346.47 L425.97 347.75 L426.65 349.03 L427.32 350.32 L428.00 351.61 L428.66 352.90 L429.33 354.20 L429.99 355.49 L430.65 356.79 L431.30 358.10 L431.95 359.40 L432.59 360.71 L433.23 362.02 L433.87 363.33 L434.50 364.65 L435.13 365.96 L435.75 367.28 L436.37 368.60 L436.99 369.93 L437.60 371.25 L438.21 372.58 L438.81 373.91 L439.41 375.25 L440.00 376.58 L440.59 377.92 L441.18 379.26 L441.76 380.60 L442.33 381.94 L442.91 383.29 L443.47 384.63 L444.04 385.98 L444.60 387.33 L445.15 388.69 L445.70 390.04 L446.24 391.40 L446.78 392.75 L447.32 394.11 L447.85 395.48 L448.38 396.84 L448.90 398.20 L449.42 399.57 L449.93 400.94 L450.44 402.31 L450.94 403.68 L451.44 405.05 L451.93 406.42 L452.42 407.80 L452.90 409.18 L453.38 410.55 L453.85 411.93 L454.32 413.31 L454.78 414.69 L455.24 416.08 L455.70 417.46 L456.14 418.85 L456.59 420.23 L457.02 421.62 L457.46 423.01 L457.89 424.40 L458.31 425.79 L458.73 427.18 L459.14 428.57 L459.54 429.97 L459.95 431.36 L460.34 432.76 L460.73 434.15 L461.12 435.55 L461.50 436.95 L461.87 438.35 L462.24 439.74 L462.61 441.14 L462.96 442.54 L463.32 443.94 L463.66 445.35 L464.01 446.75 L464.34 448.15 L464.67 449.55 L465.00 450.96 L465.32 452.36 L465.63 453.76 L465.94 455.17 L466.25 456.57 L466.55 457.98 L466.84 459.38 L467.13 460.79 L467.41 462.20 L467.69 463.60 L467.96 465.01 L468.23 466.41 L468.49 467.82 L468.75 469.23 L469.00 470.63 L469.25 472.04 L469.49 473.45 L469.73 474.85 L469.96 476.26 L470.19 477.66 L470.41 479.07 L470.63 480.48 L470.85 481.88 L471.05 483.29 L471.26 484.69 L471.46 486.10 L471.65 487.50 L471.84 488.90 L472.03 490.31 L472.21 491.71 L472.38 493.11 L472.56 494.51 L472.73 495.91 L472.89 497.31 L473.06 498.71 L473.23 500.11 L473.40 501.51 L473.57 502.91 L473.74 504.31 L473.92 505.70 L474.11 507.10 L474.30 508.50 L474.50 509.89 L474.70 511.28 L474.92 512.68 L475.15 514.07 L475.39 515.46 L475.64 516.85 L475.90 518.23 L476.18 519.62 L476.48 521.01 L476.79 522.39 L477.12 523.78 L477.46 525.16 L477.83 526.54 L478.22 527.92 L478.63 529.30 L479.07 530.68 L479.52 532.05 L480.01 533.43 L480.51 534.80 L481.05 536.17 L481.61 537.54 L482.20 538.91 L482.83 540.28 L483.48 541.64 L484.16 543.00 L484.88 544.35 L485.62 545.68 L486.39 546.99 L487.20 548.28 L488.03 549.55 L488.90 550.79 L489.79 552.00 L490.72 553.18 L491.67 554.31 L492.66 555.41 L493.67 556.46 L494.72 557.46 L495.79 558.41 L496.90 559.30 L498.03 560.13 L499.20 560.90 L500.39 561.61 L501.62 562.26 L502.86 562.86 L504.13 563.40 L505.43 563.89 L506.75 564.34 L508.09 564.74 L509.44 565.10 L510.82 565.42 L512.21 565.70 L513.61 565.95 L515.03 566.16 L516.47 566.35 L517.91 566.51 L519.36 566.65 L520.82 566.76 L522.29 566.86 L523.76 566.94 L525.24 567.01 L526.72 567.07 L528.20 567.12 L529.68 567.17 L531.16 567.21 L532.64 567.25 L534.11 567.29 L535.59 567.33 L537.06 567.36 L538.54 567.40 L540.01 567.43 L541.48 567.46 L542.95 567.49 L544.42 567.51 L545.89 567.54 L547.35 567.56 L548.82 567.58 L550.28 567.60 L551.75 567.62 L553.21 567.64 L554.67 567.66 L556.13 567.67 L557.59 567.69 L559.05 567.71 L560.51 567.72 L561.96 567.74 L563.42 567.75 L564.88 567.77 L566.33 567.78 L567.79 567.79 L569.24 567.81 L570.69 567.82 L572.14 567.84 L573.60 567.85 L575.05 567.87 L576.50 567.89 L577.95 567.90 L579.40 567.92 L580.85 567.94 L582.30 567.96 L583.74 567.98 L585.19 568.00 L586.64 568.02 L588.09 568.05 L589.53 568.07 L590.98 568.10 L592.43 568.12 L593.87 568.15 L595.32 568.17 L596.76 568.20 L598.21 568.23 L599.65 568.26 L601.10 568.29 L602.54 568.31 L603.99 568.34 L605.43 568.37 L606.87 568.41 L608.32 568.44 L609.76 568.47 L611.20 568.50 L612.65 568.53 L614.09 568.56 L615.53 568.60 L616.97 568.63 L618.42 568.66 L619.86 568.70 L621.30 568.73 L622.75 568.76 L624.19 568.80 L625.63 568.83 L627.07 568.86 L628.52 568.90 L629.96 568.93 L631.40 568.96 L632.84 568.99 L634.29 569.03 L635.73 569.06 L637.17 569.09 L638.62 569.12 L640.06 569.16 L641.50 569.19 L642.95 569.22 L644.39 569.25 L645.83 569.28 L647.28 569.31 L648.72 569.34 L650.17 569.37 L651.61 569.40 L653.06 569.43 L654.50 569.45 L655.95 569.48 L657.40 569.51 L658.84 569.53 L660.29 569.56 L661.74 569.58 L663.18 569.60 L664.63 569.63 L666.08 569.65 L667.53 569.67 L668.98 569.69 L670.43 569.71 L671.88 569.72 L673.33 569.74 L674.78 569.76 L676.23 569.77 L677.68 569.79 L679.14 569.80 L680.59 569.81 L682.04 569.82 L683.50 569.83 L684.95 569.84 L686.41 569.85 L687.86 569.85 L689.32 569.86 L690.78 569.86 L692.24 569.86 L693.70 569.86 L695.16 569.86 L696.62 569.86 L698.08 569.85" fill="none" stroke="#ff00cc" stroke-width="2.1" stroke-linejoin="round"/>
<path d="M133.99 35.21 L135.42 35.29 L136.85 35.39 L138.27 35.51 L139.68 35.65 L141.09 35.82 L142.49 36.01 L143.88 36.22 L145.26 36.45 L146.64 36.70 L148.02 36.97 L149.38 37.26 L150.74 37.57 L152.10 37.90 L153.44 38.26 L154.78 38.63 L156.12 39.02 L157.45 39.42 L158.77 39.85 L160.09 40.30 L161.40 40.76 L162.70 41.24 L164.00 41.74 L165.29 42.25 L166.58 42.79 L167.86 43.34 L169.14 43.90 L170.40 44.48 L171.67 45.08 L172.93 45.69 L174.18 46.32 L175.43 46.96 L176.67 47.62 L177.90 48.29 L179.13 48.98 L180.36 49.67 L181.58 50.39 L182.80 51.11 L184.00 51.85 L185.21 52.61 L186.41 53.37 L187.60 54.15 L188.79 54.94 L189.98 55.74 L191.16 56.55 L192.33 57.37 L193.50 58.21 L194.67 59.05 L195.83 59.91 L196.98 60.77 L198.13 61.65 L199.28 62.53 L200.42 63.43 L201.56 64.33 L202.69 65.24 L203.82 66.16 L204.94 67.09 L206.06 68.02 L207.18 68.97 L208.29 69.92 L209.39 70.88 L210.50 71.84 L211.60 72.81 L212.69 73.79 L213.78 74.77 L214.87 75.76 L215.95 76.76 L217.03 77.76 L218.10 78.76 L219.18 79.77 L220.24 80.79 L221.31 81.81 L222.37 82.83 L223.42 83.85 L224.48 84.88 L225.53 85.91 L226.57 86.95 L227.62 87.99 L228.66 89.02 L229.69 90.07 L230.72 91.11 L231.75 92.15 L232.78 93.20 L233.80 94.25 L234.82 95.29 L235.84 96.34 L236.86 97.39 L237.87 98.45 L238.88 99.50 L239.88 100.56 L240.88 101.61 L241.88 102.67 L242.88 103.73 L243.88 104.79 L244.87 105.85 L245.86 106.91 L246.85 107.98 L247.83 109.04 L248.81 110.11 L249.79 111.17 L250.77 112.24 L251.75 113.31 L252.72 114.38 L253.69 115.45 L254.66 116.52 L255.62 117.59 L256.59 118.67 L257.55 119.74 L258.51 120.82 L259.47 121.90 L260.43 122.97 L261.38 124.05 L262.34 125.13 L263.29 126.21 L264.24 127.29 L265.18 128.37 L266.13 129.46 L267.08 130.54 L268.02 131.62 L268.96 132.71 L269.90 133.79 L270.84 134.88 L271.78 135.96 L272.72 137.05 L273.65 138.14 L274.59 139.23 L275.52 140.32 L276.45 141.41 L277.38 142.50 L278.31 143.59 L279.24 144.68 L280.17 145.77 L281.10 146.86 L282.02 147.95 L282.95 149.05 L283.87 150.14 L284.80 151.23 L285.72 152.33 L286.64 153.42 L287.57 154.52 L288.49 155.61 L289.41 156.71 L290.33 157.80 L291.25 158.90 L292.17 160.00 L293.10 161.09 L294.02 162.19 L294.94 163.29 L295.86 164.38 L296.78 165.48 L297.70 166.58 L298.62 167.67 L299.54 168.77 L300.46 169.87 L301.38 170.97 L302.30 172.06 L303.22 173.16 L304.14 174.26 L305.06 175.36 L305.98 176.45 L306.90 177.55 L307.83 178.65 L308.75 179.74 L309.67 180.84 L310.60 181.94 L311.52 183.04 L312.45 184.13 L313.37 185.23 L314.30 186.33 L315.23 187.42 L316.15 188.52 L317.08 189.62 L318.01 190.71 L318.93 191.81 L319.86 192.91 L320.79 194.01 L321.71 195.10 L322.64 196.20 L323.57 197.30 L324.50 198.40 L325.42 199.50 L326.35 200.60 L327.28 201.70 L328.21 202.79 L329.13 203.89 L330.06 204.99 L330.99 206.09 L331.91 207.19 L332.84 208.30 L333.77 209.40 L334.69 210.50 L335.62 211.60 L336.54 212.70 L337.47 213.81 L338.39 214.91 L339.32 216.01 L340.24 217.12 L341.16 218.22 L342.09 219.33 L343.01 220.43 L343.93 221.54 L344.85 222.65 L345.77 223.75 L346.69 224.86 L347.61 225.97 L348.53 227.08 L349.45 228.19 L350.37 229.30 L351.28 230.41 L352.20 231.52 L353.11 232.64 L354.03 233.75 L354.94 234.87 L355.85 235.98 L356.76 237.10 L357.67 238.21 L358.58 239.33 L359.49 240.45 L360.40 241.57 L361.30 242.69 L362.21 243.81 L363.11 244.93 L364.01 246.06 L364.91 247.18 L365.81 248.30 L366.71 249.43 L367.61 250.56 L368.51 251.69 L369.40 252.81 L370.30 253.94 L371.19 255.08 L372.08 256.21 L372.97 257.34 L373.86 258.47 L374.74 259.61 L375.63 260.75 L376.51 261.88 L377.39 263.02 L378.27 264.16 L379.15 265.31 L380.03 266.45 L380.90 267.59 L381.78 268.74 L382.65 269.88 L383.52 271.03 L384.39 272.18 L385.26 273.33 L386.12 274.48 L386.98 275.64 L387.84 276.79 L388.70 277.95 L389.56 279.10 L390.41 280.26 L391.27 281.42 L392.12 282.59 L392.97 283.75 L393.81 284.91 L394.66 286.08 L395.50 287.25 L396.34 288.42 L397.18 289.59 L398.02 290.76 L398.85 291.93 L399.68 293.11 L400.51 294.29 L401.34 295.47 L402.16 296.65 L402.98 297.83 L403.80 299.01 L404.62 300.20 L405.43 301.39 L406.25 302.58 L407.06 303.77 L407.86 304.96 L408.67 306.16 L409.47 307.35 L410.27 308.55 L411.07 309.75 L411.86 310.95 L412.65 312.16 L413.44 313.36 L414.22 314.57 L415.01 315.78 L415.79 316.99 L416.56 318.21 L417.34 319.42 L418.11 320.64 L418.88 321.86 L419.64 323.08 L420.40 324.31 L421.16 325.53 L421.92 326.76 L422.67 327.99 L423.42 329.23 L424.17 330.46 L424.91 331.70 L425.65 332.94 L426.39 334.18 L427.13 335.42 L427.86 336.67 L428.58 337.91 L429.31 339.16 L430.03 340.42 L430.75 341.67 L431.46 342.93 L432.17 344.19 L432.88 345.45 L433.58 346.71 L434.28 347.98 L434.98 349.25 L435.67 350.52 L436.36 351.79 L437.04 353.07 L437.73 354.35 L438.41 355.63 L439.08 356.91 L439.75 358.20 L440.42 359.49 L441.08 360.78 L441.74 362.08 L442.40 363.37 L443.05 364.67 L443.70 365.97 L444.34 367.27 L444.98 368.58 L445.61 369.89 L446.25 371.20 L446.87 372.51 L447.50 373.83 L448.12 375.14 L448.73 376.46 L449.34 377.78 L449.95 379.11 L450.55 380.43 L451.15 381.76 L451.74 383.09 L452.33 384.42 L452.92 385.75 L453.50 387.09 L454.07 388.42 L454.64 389.76 L455.21 391.10 L455.77 392.45 L456.33 393.79 L456.88 395.14 L457.43 396.48 L457.97 397.83 L458.51 399.18 L459.05 400.54 L459.57 401.89 L460.10 403.25 L460.62 404.60 L461.13 405.96 L461.64 407.32 L462.15 408.68 L462.65 410.05 L463.14 411.41 L463.63 412.78 L464.11 414.14 L464.59 415.51 L465.07 416.88 L465.53 418.25 L466.00 419.62 L466.46 421.00 L466.91 422.37 L467.36 423.75 L467.80 425.12 L468.23 426.50 L468.67 427.88 L469.09 429.26 L469.51 430.64 L469.93 432.02 L470.33 433.40 L470.74 434.79 L471.14 436.17 L471.53 437.55 L471.91 438.94 L472.30 440.33 L472.67 441.71 L473.04 443.10 L473.40 444.49 L473.76 445.88 L474.11 447.27 L474.46 448.66 L474.80 450.05 L475.13 451.44 L475.46 452.83 L475.78 454.22 L476.10 455.62 L476.41 457.01 L476.72 458.40 L477.02 459.80 L477.31 461.19 L477.60 462.58 L477.88 463.98 L478.16 465.37 L478.43 466.77 L478.70 468.16 L478.96 469.56 L479.21 470.95 L479.46 472.35 L479.71 473.74 L479.95 475.14 L480.18 476.53 L480.41 477.93 L480.63 479.32 L480.84 480.72 L481.06 482.11 L481.26 483.51 L481.46 484.90 L481.66 486.30 L481.85 487.69 L482.03 489.09 L482.21 490.48 L482.39 491.87 L482.56 493.26 L482.72 494.66 L482.88 496.05 L483.04 497.44 L483.20 498.83 L483.36 500.22 L483.52 501.61 L483.68 503.00 L483.84 504.39 L484.01 505.78 L484.19 507.16 L484.37 508.55 L484.56 509.94 L484.75 511.32 L484.96 512.71 L485.18 514.09 L485.41 515.47 L485.65 516.85 L485.90 518.23 L486.17 519.61 L486.46 520.99 L486.77 522.37 L487.09 523.75 L487.43 525.12 L487.79 526.50 L488.17 527.87 L488.58 529.24 L489.01 530.61 L489.46 531.98 L489.94 533.35 L490.45 534.72 L490.98 536.09 L491.55 537.45 L492.14 538.82 L492.76 540.18 L493.42 541.54 L494.11 542.89 L494.83 544.24 L495.58 545.57 L496.36 546.89 L497.17 548.19 L498.01 549.47 L498.89 550.73 L499.79 551.95 L500.72 553.15 L501.68 554.31 L502.67 555.43 L503.69 556.50 L504.73 557.54 L505.80 558.52 L506.91 559.45 L508.03 560.33 L509.19 561.15 L510.37 561.90 L511.58 562.59 L512.82 563.21 L514.07 563.77 L515.36 564.27 L516.66 564.71 L517.98 565.10 L519.32 565.44 L520.68 565.74 L522.05 566.00 L523.43 566.23 L524.83 566.43 L526.24 566.60 L527.65 566.74 L529.07 566.87 L530.50 566.99 L531.93 567.10 L533.36 567.19 L534.80 567.29 L536.23 567.37 L537.67 567.45 L539.12 567.52 L540.56 567.59 L542.01 567.65 L543.46 567.71 L544.91 567.76 L546.36 567.81 L547.81 567.85 L549.26 567.88 L550.72 567.92 L552.18 567.95 L553.63 567.97 L555.09 568.00 L556.55 568.02 L558.01 568.04 L559.47 568.05 L560.93 568.06 L562.39 568.07 L563.85 568.08 L565.32 568.09 L566.78 568.10 L568.24 568.10 L569.70 568.11 L571.16 568.11 L572.62 568.12 L574.08 568.13 L575.54 568.13 L576.99 568.14 L578.45 568.14 L579.91 568.15 L581.36 568.16 L582.81 568.18 L584.26 568.19 L585.72 568.20 L587.16 568.22 L588.61 568.24 L590.06 568.26 L591.51 568.28 L592.95 568.30 L594.40 568.32 L595.84 568.34 L597.28 568.37 L598.72 568.39 L600.16 568.42 L601.60 568.45 L603.04 568.48 L604.48 568.50 L605.92 568.53 L607.36 568.56 L608.79 568.60 L610.23 568.63 L611.67 568.66 L613.10 568.69 L614.54 568.73 L615.97 568.76 L617.40 568.79 L618.84 568.83 L620.27 568.86 L621.70 568.90 L623.14 568.93 L624.57 568.97 L626.00 569.00 L627.43 569.04 L628.86 569.07 L630.30 569.11 L631.73 569.14 L633.16 569.18 L634.59 569.21 L636.02 569.25 L637.46 569.28 L638.89 569.31 L640.32 569.35 L641.75 569.38 L643.18 569.41 L644.62 569.44 L646.05 569.47 L647.48 569.50 L648.92 569.53 L650.35 569.56 L651.79 569.59 L653.22 569.62 L654.66 569.64 L656.09 569.67 L657.53 569.69 L658.97 569.72 L660.41 569.74 L661.85 569.76 L663.28 569.78 L664.72 569.80 L666.17 569.82 L667.61 569.83 L669.05 569.85 L670.49 569.86 L671.94 569.87 L673.38 569.88 L674.83 569.89 L676.28 569.90 L677.73 569.90 L679.18 569.91 L680.63 569.91 L682.08 569.91 L683.53 569.91 L684.99 569.90 L686.44 569.90 L687.90 569.89 L689.36 569.88 L690.82 569.87 L692.28 569.85 L693.74 569.84 L695.20 569.82 L696.67 569.80 L698.14 569.77" fill="none" stroke="#6600cc" stroke-width="2.1" stroke-linejoin="round"/>
<text font-family="Liberation Serif" stroke="#fff" stroke-width="0.25" font-size="25.50" fill="#000" transform="translate(167.83 350.00) scale(1.1837 1)" ><tspan font-style="italic">μ</tspan><tspan font-size="17.85" dy="5.61">0</tspan><tspan font-style="italic" dy="-5.61">H</tspan></text>
<text font-family="Liberation Serif" stroke="#fff" stroke-width="0.25" font-size="22.00" fill="#000" transform="translate(220.54 351.70) scale(1.7876 1)" ><tspan >=</tspan></text>
<text font-family="Liberation Serif" stroke="#fff" stroke-width="0.20" font-size="25.50" fill="#000" transform="translate(248.10 350.00) scale(1.1337 1)" ><tspan >0.1</tspan></text>
<text font-family="Liberation Serif" stroke="#fff" stroke-width="0.40" font-size="25.50" fill="#000" transform="translate(289.40 350.00) scale(1.3068 1)" ><tspan >T</tspan></text>
<text font-family="Liberation Serif" stroke="#fff" stroke-width="0.36" font-size="25.00" fill="#000" transform="translate(168.17 386.30) scale(1.2660 1)" ><tspan font-style="italic">P</tspan></text>
<text font-family="Liberation Serif" stroke="#fff" stroke-width="0.32" font-size="25.00" fill="#000" transform="translate(193.94 386.30) scale(1.2416 1)" ><tspan >(GPa)</tspan></text>
<path d="M166.6 409.70H214.7" stroke="#ff0000" stroke-width="2.1"/>
<text font-family="Liberation Serif" stroke="#fff" stroke-width="0.26" font-size="25.00" fill="#000" transform="translate(218.56 417.30) scale(1.1986 1)" ><tspan >0</tspan></text>
<path d="M166.6 443.20H214.7" stroke="#006000" stroke-width="2.1"/>
<text font-family="Liberation Serif" stroke="#fff" stroke-width="0.21" font-size="25.00" fill="#000" transform="translate(218.59 450.80) scale(1.1634 1)" ><tspan >0.29</tspan></text>
<path d="M166.6 476.20H214.7" stroke="#0000cc" stroke-width="2.1"/>
<text font-family="Liberation Serif" stroke="#fff" stroke-width="0.20" font-size="25.00" fill="#000" transform="translate(218.60 483.80) scale(1.1551 1)" ><tspan >0.51</tspan></text>
<path d="M166.6 509.40H214.7" stroke="#ff00cc" stroke-width="2.1"/>
<text font-family="Liberation Serif" stroke="#fff" stroke-width="0.21" font-size="25.00" fill="#000" transform="translate(218.59 517.00) scale(1.1638 1)" ><tspan >0.78</tspan></text>
<path d="M166.6 542.60H214.7" stroke="#6600cc" stroke-width="2.1"/>
<text font-family="Liberation Serif" stroke="#fff" stroke-width="0.19" font-size="25.00" fill="#000" transform="translate(218.61 550.20) scale(1.1431 1)" ><tspan >0.97</tspan></text>
<path d="M446.00 16.80V257.70H698.00" fill="none" stroke="#000" stroke-width="1.80"/>
<path d="M433.50 31.80H446.00M433.50 69.45H446.00M433.50 107.10H446.00M433.50 144.75H446.00M433.50 182.40H446.00M433.50 220.05H446.00M433.50 257.70H446.00M446.00 257.70V269.70M455.00 257.70V263.70M464.00 257.70V263.70M473.00 257.70V263.70M482.00 257.70V263.70M491.00 257.70V263.70M500.00 257.70V263.70M509.00 257.70V263.70M518.00 257.70V269.70M527.00 257.70V263.70M536.00 257.70V263.70M545.00 257.70V263.70M554.00 257.70V263.70M563.00 257.70V263.70M572.00 257.70V263.70M581.00 257.70V263.70M590.00 257.70V269.70M599.00 257.70V263.70M608.00 257.70V263.70M617.00 257.70V263.70M626.00 257.70V263.70M635.00 257.70V263.70M644.00 257.70V263.70M653.00 257.70V263.70M662.00 257.70V269.70M671.00 257.70V263.70M680.00 257.70V263.70M689.00 257.70V263.70M698.00 257.70V263.70" stroke="#000" stroke-width="1.80" fill="none"/>
<text font-family="Liberation Serif" stroke="#fff" stroke-width="0.12" font-size="21.80" fill="#000" transform="translate(418.88 38.50) scale(1.1040 1)" ><tspan >0</tspan></text>
<text font-family="Liberation Serif" stroke="#fff" stroke-width="0.12" font-size="21.80" fill="#000" transform="translate(418.45 76.15) scale(1.1206 1)" ><tspan >1</tspan></text>
<path d="M402.3 70.05H416.8" stroke="#000" stroke-width="1.25"/>
<text font-family="Liberation Serif" stroke="#fff" stroke-width="0.14" font-size="21.80" fill="#000" transform="translate(418.68 113.80) scale(1.1672 1)" ><tspan >2</tspan></text>
<path d="M402.3 107.70H416.8" stroke="#000" stroke-width="1.25"/>
<text font-family="Liberation Serif" stroke="#fff" stroke-width="0.12" font-size="21.80" fill="#000" transform="translate(418.62 151.45) scale(1.1327 1)" ><tspan >3</tspan></text>
<path d="M402.3 145.35H416.8" stroke="#000" stroke-width="1.25"/>
<text font-family="Liberation Serif" stroke="#fff" stroke-width="0.12" font-size="21.80" fill="#000" transform="translate(419.37 189.10) scale(1.0066 1)" ><tspan >4</tspan></text>
<path d="M402.3 183.00H416.8" stroke="#000" stroke-width="1.25"/>
<text font-family="Liberation Serif" stroke="#fff" stroke-width="0.13" font-size="21.80" fill="#000" transform="translate(418.33 226.75) scale(1.1615 1)" ><tspan >5</tspan></text>
<path d="M402.3 220.65H416.8" stroke="#000" stroke-width="1.25"/>
<text font-family="Liberation Serif" stroke="#fff" stroke-width="0.12" font-size="21.80" fill="#000" transform="translate(418.77 264.40) scale(1.0951 1)" ><tspan >6</tspan></text>
<path d="M402.3 258.30H416.8" stroke="#000" stroke-width="1.25"/>
<text font-family="Liberation Serif" stroke="#fff" stroke-width="0.11" font-size="21.50" fill="#000" transform="translate(439.88 289.00) scale(1.1194 1)" ><tspan >0</tspan></text>
<text font-family="Liberation Serif" stroke="#fff" stroke-width="0.11" font-size="21.50" fill="#000" transform="translate(505.84 289.00) scale(1.0957 1)" ><tspan >40</tspan></text>
<text font-family="Liberation Serif" stroke="#fff" stroke-width="0.11" font-size="21.50" fill="#000" transform="translate(576.08 289.00) scale(1.1177 1)" ><tspan >80</tspan></text>
<text font-family="Liberation Serif" stroke="#fff" stroke-width="0.11" font-size="21.50" fill="#000" transform="translate(642.87 289.00) scale(1.1272 1)" ><tspan >120</tspan></text>
<text font-family="Liberation Serif" stroke="#fff" stroke-width="0.37" font-size="25.00" fill="#000" transform="translate(535.12 319.70) scale(1.2732 1)" ><tspan font-style="italic">T</tspan></text>
<text font-family="Liberation Serif" stroke="#fff" stroke-width="0.38" font-size="25.00" fill="#000" transform="translate(560.29 319.70) scale(1.2797 1)" ><tspan >(K)</tspan></text>
<text font-family="Liberation Serif" stroke="#fff" stroke-width="0.35" font-size="24.50" fill="#000" transform="translate(391.80 259.72) rotate(-90) scale(1.3732 1)" ><tspan >d</tspan><tspan font-style="italic">M</tspan><tspan >/d</tspan><tspan font-style="italic">T</tspan></text>
<text font-family="Liberation Serif" stroke="#fff" stroke-width="0.35" font-size="24.50" fill="#000" transform="translate(391.80 159.60) rotate(-90) scale(1.3043 1)" ><tspan >(arb. units)</tspan></text>
<path d="M449.30 36.70 L450.12 37.22 L450.94 37.77 L451.76 38.33 L452.57 38.91 L453.39 39.51 L454.20 40.12 L455.01 40.74 L455.82 41.37 L456.64 42.01 L457.45 42.66 L458.26 43.32 L459.07 43.99 L459.89 44.66 L460.70 45.34 L461.51 46.01 L462.33 46.70 L463.15 47.38 L463.97 48.06 L464.79 48.74 L465.61 49.42 L466.43 50.09 L467.26 50.76 L468.09 51.42 L468.92 52.08 L469.76 52.72 L470.59 53.36 L471.43 53.98 L472.28 54.60 L473.13 55.20 L473.98 55.79 L474.83 56.36 L475.69 56.92 L476.56 57.46 L477.43 57.99 L478.30 58.50 L479.18 59.00 L480.06 59.49 L480.95 59.96 L481.85 60.42 L482.75 60.86 L483.66 61.29 L484.57 61.71 L485.49 62.11 L486.41 62.49 L487.35 62.87 L488.29 63.23 L489.23 63.57 L490.19 63.90 L491.15 64.22 L492.12 64.52 L493.09 64.81 L494.08 65.09 L495.07 65.35 L496.07 65.59 L497.08 65.83 L498.10 66.05 L499.13 66.26 L500.16 66.45 L501.21 66.63 L502.25 66.80 L503.31 66.97 L504.37 67.12 L505.44 67.26 L506.51 67.39 L507.59 67.52 L508.68 67.64 L509.76 67.75 L510.85 67.85 L511.95 67.95 L513.05 68.05 L514.15 68.14 L515.25 68.22 L516.35 68.30 L517.46 68.38 L518.56 68.46 L519.67 68.54 L520.78 68.61 L521.88 68.69 L522.99 68.77 L524.10 68.84 L525.20 68.92 L526.30 69.00 L527.40 69.09 L528.50 69.18 L529.59 69.27 L530.68 69.36 L531.77 69.47 L532.85 69.57 L533.93 69.69 L535.00 69.81 L536.07 69.94 L537.13 70.08 L538.18 70.22 L539.23 70.38 L540.27 70.55 L541.30 70.72 L542.33 70.91 L543.35 71.11 L544.35 71.33 L545.35 71.55 L546.34 71.79 L547.32 72.05 L548.29 72.32 L549.25 72.61 L550.20 72.91 L551.13 73.23 L552.06 73.56 L552.97 73.92 L553.87 74.29 L554.75 74.69 L555.62 75.10 L556.48 75.53 L557.33 75.99 L558.16 76.46 L558.97 76.96 L559.77 77.48 L560.55 78.03 L561.31 78.60 L562.06 79.20 L562.79 79.82 L563.51 80.46 L564.21 81.13 L564.88 81.83 L565.55 82.55 L566.19 83.30 L566.82 84.06 L567.43 84.85 L568.03 85.66 L568.61 86.49 L569.17 87.34 L569.72 88.21 L570.26 89.09 L570.78 90.00 L571.28 90.92 L571.77 91.85 L572.25 92.80 L572.71 93.76 L573.16 94.74 L573.60 95.72 L574.02 96.72 L574.43 97.73 L574.83 98.75 L575.21 99.78 L575.58 100.81 L575.94 101.86 L576.29 102.91 L576.63 103.96 L576.96 105.02 L577.27 106.09 L577.58 107.16 L577.88 108.23 L578.16 109.30 L578.44 110.37 L578.70 111.44 L578.96 112.52 L579.20 113.59 L579.44 114.66 L579.67 115.73 L579.89 116.79 L580.11 117.85 L580.31 118.92 L580.51 119.98 L580.70 121.04 L580.88 122.09 L581.06 123.15 L581.23 124.20 L581.39 125.26 L581.55 126.31 L581.70 127.36 L581.85 128.41 L581.99 129.46 L582.13 130.50 L582.26 131.55 L582.38 132.60 L582.50 133.64 L582.62 134.68 L582.74 135.73 L582.85 136.77 L582.95 137.81 L583.06 138.86 L583.16 139.90 L583.26 140.94 L583.35 141.98 L583.45 143.02 L583.54 144.06 L583.63 145.10 L583.72 146.14 L583.80 147.18 L583.89 148.23 L583.97 149.27 L584.05 150.31 L584.13 151.35 L584.21 152.39 L584.29 153.43 L584.36 154.47 L584.44 155.51 L584.51 156.55 L584.58 157.59 L584.65 158.63 L584.72 159.67 L584.79 160.72 L584.86 161.76 L584.93 162.80 L584.99 163.84 L585.06 164.88 L585.12 165.92 L585.19 166.97 L585.25 168.01 L585.32 169.05 L585.38 170.09 L585.44 171.14 L585.50 172.18 L585.57 173.22 L585.63 174.27 L585.69 175.31 L585.75 176.36 L585.82 177.40 L585.88 178.45 L585.94 179.49 L586.00 180.54 L586.07 181.59 L586.13 182.63 L586.19 183.68 L586.26 184.73 L586.32 185.78 L586.39 186.83 L586.45 187.87 L586.52 188.92 L586.59 189.97 L586.66 191.02 L586.72 192.08 L586.79 193.13 L586.87 194.18 L586.94 195.23 L587.01 196.29 L587.09 197.34 L587.16 198.39 L587.24 199.45 L587.32 200.50 L587.40 201.56 L587.48 202.62 L587.57 203.68 L587.65 204.73 L587.74 205.79 L587.83 206.85 L587.92 207.91 L588.01 208.98 L588.10 210.04 L588.20 211.10 L588.20 211.10 L588.29 209.99 L588.39 208.88 L588.48 207.78 L588.57 206.67 L588.65 205.57 L588.74 204.46 L588.82 203.36 L588.90 202.26 L588.98 201.16 L589.06 200.06 L589.14 198.96 L589.21 197.87 L589.29 196.77 L589.36 195.68 L589.43 194.58 L589.50 193.49 L589.56 192.40 L589.63 191.31 L589.69 190.22 L589.76 189.13 L589.82 188.04 L589.88 186.95 L589.94 185.87 L589.99 184.78 L590.05 183.69 L590.10 182.61 L590.16 181.53 L590.21 180.44 L590.26 179.36 L590.31 178.28 L590.36 177.20 L590.41 176.12 L590.45 175.04 L590.50 173.96 L590.55 172.88 L590.59 171.80 L590.63 170.73 L590.67 169.65 L590.72 168.57 L590.76 167.49 L590.79 166.42 L590.83 165.34 L590.87 164.27 L590.91 163.19 L590.95 162.12 L590.98 161.04 L591.02 159.97 L591.05 158.89 L591.08 157.82 L591.12 156.75 L591.15 155.67 L591.18 154.60 L591.21 153.53 L591.25 152.45 L591.28 151.38 L591.31 150.31 L591.34 149.23 L591.37 148.16 L591.40 147.09 L591.43 146.01 L591.46 144.94 L591.48 143.87 L591.51 142.79 L591.54 141.72 L591.57 140.65 L591.60 139.57 L591.63 138.50 L591.65 137.42 L591.68 136.35 L591.71 135.27 L591.74 134.20 L591.77 133.12 L591.80 132.04 L591.82 130.97 L591.85 129.89 L591.88 128.81 L591.91 127.73 L591.94 126.66 L591.97 125.58 L592.00 124.50 L592.03 123.42 L592.06 122.34 L592.09 121.25 L592.12 120.17 L592.15 119.09 L592.18 118.01 L592.22 116.92 L592.25 115.84 L592.28 114.75 L592.32 113.67 L592.35 112.58 L592.39 111.49 L592.43 110.40 L592.46 109.31 L592.50 108.22 L592.54 107.13 L592.58 106.04 L592.62 104.94 L592.66 103.85 L592.70 102.76 L592.74 101.66 L592.79 100.56 L592.83 99.46 L592.87 98.36 L592.92 97.26 L592.97 96.16 L593.02 95.06 L593.07 93.95 L593.12 92.85 L593.17 91.74 L593.22 90.63 L593.28 89.52 L593.33 88.41 L593.39 87.30 L593.45 86.19 L593.51 85.07 L593.57 83.96 L593.63 82.84 L593.69 81.72 L593.76 80.60 L593.82 79.48 L593.89 78.36 L593.96 77.23 L594.03 76.10 L594.10 74.98 L594.18 73.85 L594.25 72.71 L594.33 71.58 L594.41 70.45 L594.49 69.31 L594.57 68.17 L594.66 67.03 L594.75 65.90 L594.84 64.76 L594.95 63.63 L595.06 62.50 L595.17 61.37 L595.30 60.25 L595.44 59.14 L595.59 58.04 L595.75 56.95 L595.93 55.87 L596.12 54.80 L596.33 53.74 L596.56 52.70 L596.81 51.67 L597.07 50.65 L597.36 49.66 L597.67 48.68 L598.01 47.73 L598.36 46.79 L598.75 45.88 L599.16 45.00 L599.60 44.14 L600.06 43.31 L600.56 42.51 L601.09 41.74 L601.65 41.01 L602.24 40.31 L602.87 39.65 L603.54 39.02 L604.23 38.44 L604.96 37.88 L605.72 37.37 L606.51 36.88 L607.32 36.42 L608.17 36.00 L609.04 35.60 L609.93 35.23 L610.84 34.89 L611.78 34.57 L612.73 34.28 L613.71 34.01 L614.70 33.76 L615.71 33.53 L616.74 33.32 L617.78 33.13 L618.83 32.95 L619.89 32.80 L620.96 32.65 L622.05 32.52 L623.13 32.40 L624.23 32.29 L625.33 32.19 L626.43 32.10 L627.54 32.02 L628.65 31.95 L629.76 31.88 L630.88 31.81 L631.99 31.76 L633.11 31.71 L634.23 31.67 L635.35 31.63 L636.48 31.60 L637.60 31.57 L638.73 31.55 L639.85 31.53 L640.98 31.52 L642.11 31.52 L643.24 31.51 L644.37 31.51 L645.50 31.52 L646.64 31.53 L647.77 31.54 L648.90 31.55 L650.03 31.57 L651.17 31.59 L652.30 31.61 L653.43 31.64 L654.56 31.66 L655.69 31.69 L656.82 31.72 L657.95 31.75 L659.08 31.79 L660.21 31.82 L661.34 31.85 L662.46 31.89 L663.58 31.92 L664.71 31.95 L665.83 31.99 L666.95 32.02 L668.06 32.05 L669.18 32.08 L670.29 32.11 L671.40 32.14 L672.51 32.17 L673.61 32.19 L674.71 32.22 L675.81 32.24 L676.91 32.26 L678.00 32.27 L679.09 32.28 L680.18 32.29 L681.26 32.30 L682.34 32.30 L683.42 32.30 L684.49 32.29 L685.55 32.28 L686.62 32.26 L687.68 32.24 L688.73 32.22 L689.78 32.18 L690.83 32.15 L691.87 32.11 L692.91 32.06 L693.94 32.00 L694.96 31.94 L695.98 31.87 L697.00 31.80" fill="none" stroke="#ff0000" stroke-width="2.1" stroke-linejoin="round"/>
<path d="M588.6 257.70V229" stroke="#000" stroke-width="2"/>
<path d="M588.6 211.2 L593.9 229.8 L588.6 228.3 L583.3 229.8 Z" fill="#000"/>
<text font-family="Liberation Serif" stroke="#fff" stroke-width="0.42" font-size="26.00" fill="#000" transform="translate(547.21 233.30) scale(1.2872 1)" ><tspan font-style="italic">T</tspan></text>
<text font-family="Liberation Serif" font-size="17.00" fill="#000" transform="translate(565.78 236.70) scale(1.1137 1)" ><tspan >c</tspan></text>
<path d="M124.70 677.30 H696.50 V1237.70 H124.70 Z" fill="none" stroke="#000" stroke-width="1.80"/>
<path d="M110.20 677.30H124.70M117.40 685.92H124.70M117.40 694.54H124.70M117.40 703.16H124.70M117.40 711.79H124.70M114.00 720.41H124.70M117.40 729.03H124.70M117.40 737.65H124.70M117.40 746.27H124.70M117.40 754.89H124.70M110.20 763.52H124.70M117.40 772.14H124.70M117.40 780.76H124.70M117.40 789.38H124.70M117.40 798.00H124.70M114.00 806.62H124.70M117.40 815.24H124.70M117.40 823.87H124.70M117.40 832.49H124.70M117.40 841.11H124.70M110.20 849.73H124.70M117.40 858.35H124.70M117.40 866.97H124.70M117.40 875.60H124.70M117.40 884.22H124.70M114.00 892.84H124.70M117.40 901.46H124.70M117.40 910.08H124.70M117.40 918.70H124.70M117.40 927.32H124.70M110.20 935.95H124.70M117.40 944.57H124.70M117.40 953.19H124.70M117.40 961.81H124.70M117.40 970.43H124.70M114.00 979.05H124.70M117.40 987.68H124.70M117.40 996.30H124.70M117.40 1004.92H124.70M117.40 1013.54H124.70M110.20 1022.16H124.70M117.40 1030.78H124.70M117.40 1039.40H124.70M117.40 1048.03H124.70M117.40 1056.65H124.70M114.00 1065.27H124.70M117.40 1073.89H124.70M117.40 1082.51H124.70M117.40 1091.13H124.70M117.40 1099.76H124.70M110.20 1108.38H124.70M117.40 1117.00H124.70M117.40 1125.62H124.70M117.40 1134.24H124.70M117.40 1142.86H124.70M114.00 1151.48H124.70M117.40 1160.11H124.70M117.40 1168.73H124.70M117.40 1177.35H124.70M117.40 1185.97H124.70M110.20 1194.59H124.70M117.40 1203.21H124.70M117.40 1211.84H124.70M117.40 1220.46H124.70M117.40 1229.08H124.70M114.00 1237.70H124.70M124.70 1237.70V1251.70M136.14 1237.70V1245.00M147.57 1237.70V1245.00M159.01 1237.70V1245.00M170.44 1237.70V1245.00M181.88 1237.70V1248.30M193.32 1237.70V1245.00M204.75 1237.70V1245.00M216.19 1237.70V1245.00M227.62 1237.70V1245.00M239.06 1237.70V1251.70M250.50 1237.70V1245.00M261.93 1237.70V1245.00M273.37 1237.70V1245.00M284.80 1237.70V1245.00M296.24 1237.70V1248.30M307.68 1237.70V1245.00M319.11 1237.70V1245.00M330.55 1237.70V1245.00M341.98 1237.70V1245.00M353.42 1237.70V1251.70M364.86 1237.70V1245.00M376.29 1237.70V1245.00M387.73 1237.70V1245.00M399.16 1237.70V1245.00M410.60 1237.70V1248.30M422.04 1237.70V1245.00M433.47 1237.70V1245.00M444.91 1237.70V1245.00M456.34 1237.70V1245.00M467.78 1237.70V1251.70M479.22 1237.70V1245.00M490.65 1237.70V1245.00M502.09 1237.70V1245.00M513.52 1237.70V1245.00M524.96 1237.70V1248.30M536.40 1237.70V1245.00M547.83 1237.70V1245.00M559.27 1237.70V1245.00M570.70 1237.70V1245.00M582.14 1237.70V1251.70M593.58 1237.70V1245.00M605.01 1237.70V1245.00M616.45 1237.70V1245.00M627.88 1237.70V1245.00M639.32 1237.70V1248.30M650.76 1237.70V1245.00M662.19 1237.70V1245.00M673.63 1237.70V1245.00M685.06 1237.70V1245.00M696.50 1237.70V1251.70" stroke="#000" stroke-width="1.80" fill="none"/>
<text font-family="Liberation Serif" stroke="#fff" stroke-width="0.25" font-size="30.00" fill="#000" transform="translate(99.65 1279.00) scale(1.1184 1)" ><tspan >180</tspan></text>
<text font-family="Liberation Serif" stroke="#fff" stroke-width="0.25" font-size="30.00" fill="#000" transform="translate(213.81 1279.00) scale(1.1284 1)" ><tspan >200</tspan></text>
<text font-family="Liberation Serif" stroke="#fff" stroke-width="0.25" font-size="30.00" fill="#000" transform="translate(327.72 1279.00) scale(1.1237 1)" ><tspan >220</tspan></text>
<text font-family="Liberation Serif" stroke="#fff" stroke-width="0.25" font-size="30.00" fill="#000" transform="translate(441.43 1279.00) scale(1.1166 1)" ><tspan >240</tspan></text>
<text font-family="Liberation Serif" stroke="#fff" stroke-width="0.25" font-size="30.00" fill="#000" transform="translate(554.93 1279.00) scale(1.1166 1)" ><tspan >260</tspan></text>
<text font-family="Liberation Serif" stroke="#fff" stroke-width="0.25" font-size="30.00" fill="#000" transform="translate(670.59 1279.00) scale(1.0696 1)" ><tspan >280</tspan></text>
<text font-family="Liberation Serif" stroke="#fff" stroke-width="0.40" font-size="33.00" fill="#000" transform="translate(40.82 686.60) scale(1.2255 1)" ><tspan >(b)</tspan></text>
<text font-family="Liberation Serif" stroke="#fff" stroke-width="0.50" font-size="34.00" fill="#000" transform="translate(364.31 1319.60) scale(1.2999 1)" ><tspan font-style="italic">T</tspan></text>
<text font-family="Liberation Serif" stroke="#fff" stroke-width="0.50" font-size="34.00" fill="#000" transform="translate(396.36 1319.60) scale(1.2983 1)" ><tspan >(K)</tspan></text>
<text font-family="Liberation Serif" stroke="#fff" stroke-width="0.50" font-size="33.00" fill="#000" transform="translate(72.60 1076.90) rotate(-90) scale(1.3625 1)" ><tspan font-style="italic">χ</tspan><tspan >′</tspan></text>
<text font-family="Liberation Serif" stroke="#fff" stroke-width="0.50" font-size="33.00" fill="#000" transform="translate(72.60 1029.27) rotate(-90) scale(1.2918 1)" ><tspan >(arb. units)</tspan></text>
<path d="M125.0 927.7 L125.8 928.2 L126.6 927.1 L127.4 926.0 L128.2 925.3 L129.0 926.0 L129.8 925.4 L130.6 924.7 L131.4 926.0 L132.2 926.3 L133.0 926.8 L133.8 925.7 L134.6 926.1 L135.4 926.2 L136.2 925.0 L137.0 926.5 L137.8 926.8 L138.6 928.8 L139.4 927.6 L140.2 926.9 L141.0 928.0 L141.8 927.4 L142.6 927.9 L143.4 927.0 L144.2 927.2 L145.0 928.1 L145.8 928.1 L146.6 927.7 L147.4 926.5 L148.2 927.5 L149.0 927.5 L149.8 928.2 L150.6 927.8 L151.4 928.4 L152.2 927.5 L153.0 927.3 L153.8 927.6 L154.6 926.0 L155.4 926.0 L156.2 925.8 L157.0 927.9 L157.8 926.7 L158.6 926.9 L159.4 926.8 L160.2 925.9 L161.0 924.4 L161.8 926.0 L162.6 925.3 L163.4 926.0 L164.2 924.5 L165.0 924.7 L165.8 926.2 L166.6 926.9 L167.4 924.7 L168.2 923.9 L169.0 924.7 L169.8 925.7 L170.6 925.5 L171.4 925.5 L172.2 924.4 L173.0 925.3 L173.8 926.1 L174.6 925.0 L175.4 923.8 L176.2 924.1 L177.0 925.8 L177.8 924.2 L178.6 925.2 L179.4 924.9 L180.2 925.7 L181.0 926.0 L181.8 926.5 L182.6 928.1 L183.4 927.8 L184.2 928.6 L185.0 927.7 L185.8 927.2 L186.6 927.9 L187.4 925.4 L188.2 927.2 L189.0 928.1 L189.8 927.3 L190.6 928.3 L191.4 927.5 L192.2 925.3 L193.0 926.4 L193.8 925.9 L194.6 926.0 L195.4 926.2 L196.2 927.3 L197.0 926.5 L197.8 925.9 L198.6 925.9 L199.4 923.7 L200.2 925.6 L201.0 924.1 L201.8 924.9 L202.6 923.8 L203.4 923.4 L204.2 923.8 L205.0 925.9 L205.8 925.5 L206.6 924.2 L207.4 924.0 L208.2 923.0 L209.0 923.7 L209.8 923.4 L210.6 924.4 L211.4 922.8 L212.2 923.1 L213.0 922.7 L213.8 922.6 L214.6 923.8 L215.4 923.7 L216.2 924.0 L217.0 924.6 L217.8 924.7 L218.6 922.4 L219.4 923.3 L220.2 921.5 L221.0 922.3 L221.8 924.3 L222.6 923.1 L223.4 922.5 L224.2 922.7 L225.0 922.5 L225.8 922.6 L226.6 922.0 L227.4 923.4 L228.2 923.8 L229.0 923.0 L229.8 923.2 L230.6 923.7 L231.4 924.2 L232.2 923.8 L233.0 924.0 L233.8 923.3 L234.6 922.3 L235.4 922.6 L236.2 924.0 L237.0 924.6 L237.8 924.0 L238.6 923.0 L239.4 923.4 L240.2 924.7 L241.0 924.8 L241.8 923.0 L242.6 922.8 L243.4 921.5 L244.2 921.2 L245.0 922.3 L245.8 922.4 L246.6 923.2 L247.4 923.7 L248.2 923.5 L249.0 923.7 L249.8 922.1 L250.6 921.0 L251.4 922.1 L252.2 924.5 L253.0 923.2 L253.8 921.4 L254.6 922.1 L255.4 923.4 L256.2 921.6 L257.0 922.7 L257.8 921.8 L258.6 923.2 L259.4 923.2 L260.2 922.8 L261.0 924.2 L261.8 922.5 L262.6 921.7 L263.4 923.6 L264.2 921.8 L265.0 923.8 L265.8 922.5 L266.6 921.1 L267.4 921.5 L268.2 921.7 L269.0 921.8 L269.8 921.4 L270.6 922.4 L271.4 919.6 L272.2 920.2 L273.0 920.6 L273.8 922.5 L274.6 919.7 L275.4 920.2 L276.2 919.5 L277.0 919.6 L277.8 920.7 L278.6 920.8 L279.4 921.7 L280.2 920.0 L281.0 920.2 L281.8 920.9 L282.6 920.8 L283.4 919.6 L284.2 920.4 L285.0 918.7 L285.8 920.5 L286.6 919.6 L287.4 918.9 L288.2 919.0 L289.0 919.4 L289.8 920.4 L290.6 918.9 L291.4 918.2 L292.2 918.7 L293.0 917.5 L293.8 916.3 L294.6 918.1 L295.4 917.5 L296.2 918.7 L297.0 917.0 L297.8 914.7 L298.6 916.7 L299.4 917.3 L300.2 918.7 L301.0 918.4 L301.8 918.1 L302.6 918.3 L303.4 917.6 L304.2 917.7 L305.0 916.6 L305.8 917.9 L306.6 917.2 L307.4 917.4 L308.2 918.5 L309.0 919.1 L309.8 917.7 L310.6 919.9 L311.4 918.4 L312.2 919.2 L313.0 919.7 L313.8 919.2 L314.6 919.0 L315.4 920.4 L316.2 920.2 L317.0 919.7 L317.8 917.5 L318.6 917.8 L319.4 919.6 L320.2 919.4 L321.0 918.1 L321.8 917.8 L322.6 917.9 L323.4 918.7 L324.2 918.7 L325.0 919.1 L325.8 917.5 L326.6 918.4 L327.4 917.3 L328.2 917.0 L329.0 918.6 L329.8 917.6 L330.6 917.0 L331.4 916.6 L332.2 916.2 L333.0 917.7 L333.8 917.9 L334.6 917.3 L335.4 916.5 L336.2 916.9 L337.0 915.9 L337.8 916.0 L338.6 915.9 L339.4 915.5 L340.2 916.7 L341.0 917.1 L341.8 916.8 L342.6 913.7 L343.4 916.0 L344.2 915.6 L345.0 914.4 L345.8 914.3 L346.6 915.2 L347.4 915.5 L348.2 915.3 L349.0 914.5 L349.8 914.0 L350.6 914.5 L351.4 913.7 L352.2 912.6 L353.0 912.3 L353.8 912.6 L354.6 913.0 L355.4 914.8 L356.2 912.0 L357.0 912.6 L357.8 912.2 L358.6 912.3 L359.4 913.2 L360.2 913.3 L361.0 912.0 L361.8 911.0 L362.6 909.9 L363.4 910.6 L364.2 912.0 L365.0 911.1 L365.8 911.6 L366.6 911.7 L367.4 911.4 L368.2 911.9 L369.0 910.9 L369.8 909.9 L370.6 909.2 L371.4 910.7 L372.2 910.1 L373.0 909.9 L373.8 910.7 L374.6 909.6 L375.4 911.4 L376.2 910.9 L377.0 909.6 L377.8 909.0 L378.6 910.2 L379.4 908.5 L380.2 908.3 L381.0 908.7 L381.8 909.0 L382.6 908.8 L383.4 909.0 L384.2 908.3 L385.0 908.2 L385.8 909.3 L386.6 909.1 L387.4 907.9 L388.2 909.4 L389.0 906.5 L389.8 907.3 L390.6 908.0 L391.4 908.5 L392.2 907.8 L393.0 907.0 L393.8 907.6 L394.6 907.0 L395.4 907.3 L396.2 904.4 L397.0 906.2 L397.8 905.7 L398.6 907.0 L399.4 907.2 L400.2 907.2 L401.0 906.1 L401.8 906.5 L402.6 905.8 L403.4 906.0 L404.2 905.8 L405.0 904.9 L405.8 907.2 L406.6 906.8 L407.4 904.1 L408.2 905.7 L409.0 904.2 L409.8 904.7 L410.6 904.5 L411.4 904.4 L412.2 905.0 L413.0 904.7 L413.8 903.7 L414.6 904.6 L415.4 905.3 L416.2 906.9 L417.0 905.5 L417.8 904.3 L418.6 904.7 L419.4 905.8 L420.2 904.8 L421.0 904.7 L421.8 905.8 L422.6 905.7 L423.4 905.9 L424.2 905.3 L425.0 904.9 L425.8 905.1 L426.6 905.2 L427.4 905.0 L428.2 905.6 L429.0 905.8 L429.8 905.8 L430.6 905.7 L431.4 904.3 L432.2 903.6 L433.0 904.9 L433.8 904.6 L434.6 904.6 L435.4 903.3 L436.2 903.6 L437.0 903.3 L437.8 903.0 L438.6 903.1 L439.4 902.4 L440.2 903.6 L441.0 905.0 L441.8 903.8 L442.6 904.2 L443.4 903.2 L444.2 904.5 L445.0 906.1 L445.8 903.8 L446.6 904.0 L447.4 905.5 L448.2 905.2 L449.0 904.8 L449.8 902.8 L450.6 903.8 L451.4 905.1 L452.2 906.0 L453.0 905.6 L453.8 904.4 L454.6 903.8 L455.4 902.6 L456.2 902.9 L457.0 904.9 L457.8 904.6 L458.6 903.3 L459.4 905.3 L460.2 903.3 L461.0 905.2 L461.8 904.5 L462.6 904.8 L463.4 905.4 L464.2 905.4 L465.0 906.4 L465.8 905.7 L466.6 905.3 L467.4 905.0 L468.2 904.3 L469.0 904.9 L469.8 906.7 L470.6 907.3 L471.4 908.1 L472.2 909.8 L473.0 908.6 L473.8 908.2 L474.6 906.5 L475.4 907.0 L476.2 909.5 L477.0 909.0 L477.8 908.5 L478.6 909.1 L479.4 907.7 L480.2 908.5 L481.0 908.6 L481.8 908.3 L482.6 911.2 L483.4 913.0 L484.2 913.1 L485.0 914.1 L485.8 913.8 L486.6 915.5 L487.4 916.9 L488.2 918.8 L489.0 920.1 L489.8 920.3 L490.6 920.4 L491.4 920.5 L492.2 921.4 L493.0 923.3 L493.8 924.4 L494.6 924.8 L495.4 927.0 L496.2 927.3 L497.0 927.4 L497.8 927.8 L498.6 928.7 L499.4 928.6 L500.2 929.0 L501.0 930.9 L501.8 931.2 L502.6 932.1 L503.4 934.1 L504.2 933.9 L505.0 935.6 L505.8 935.4 L506.6 937.1 L507.4 937.1 L508.2 935.5 L509.0 938.1 L509.8 938.0 L510.6 936.8 L511.4 938.7 L512.2 939.7 L513.0 939.0 L513.8 939.5 L514.6 940.9 L515.4 942.3 L516.2 942.7 L517.0 943.1 L517.8 943.3 L518.6 940.3 L519.4 941.1 L520.2 942.3 L521.0 940.1 L521.8 942.6 L522.6 943.7 L523.4 942.6 L524.2 942.7 L525.0 942.3 L525.8 943.1 L526.6 943.4 L527.4 943.6 L528.2 942.9 L529.0 944.0 L529.8 943.8 L530.6 944.9 L531.4 944.9 L532.2 943.3 L533.0 942.8 L533.8 944.1 L534.6 944.0 L535.4 944.9 L536.2 945.6 L537.0 945.2 L537.8 943.5 L538.6 943.4 L539.4 945.0 L540.2 944.2 L541.0 945.8 L541.8 945.4 L542.6 945.8 L543.4 944.8 L544.2 945.1 L545.0 942.7 L545.8 944.3 L546.6 945.5 L547.4 944.5 L548.2 944.2 L549.0 944.7 L549.8 944.9 L550.6 944.2 L551.4 945.2 L552.2 943.4 L553.0 945.2 L553.8 943.5 L554.6 943.4 L555.4 945.5 L556.2 944.6 L557.0 944.0 L557.8 945.7 L558.6 945.6 L559.4 945.8 L560.2 946.5 L561.0 946.8 L561.8 946.9 L562.6 947.1 L563.4 949.7 L564.2 948.7 L565.0 950.1 L565.8 948.3 L566.6 949.5 L567.4 948.3 L568.2 948.6 L569.0 949.7 L569.8 949.0 L570.6 947.5 L571.4 948.2 L572.2 948.9 L573.0 949.8 L573.8 948.7 L574.6 948.9 L575.4 949.3 L576.2 947.9 L577.0 948.9 L577.8 948.5 L578.6 949.6 L579.4 949.4 L580.2 949.3 L581.0 947.3 L581.8 948.6 L582.6 948.9 L583.4 948.4 L584.2 948.7 L585.0 948.1 L585.8 949.2 L586.6 950.0 L587.4 950.2 L588.2 949.3 L589.0 950.9 L589.8 950.8 L590.6 949.1 L591.4 949.2 L592.2 947.9 L593.0 948.8 L593.8 949.9 L594.6 950.8 L595.4 949.6 L596.2 947.9 L597.0 948.8 L597.8 950.5 L598.6 950.0 L599.4 950.8 L600.2 950.7 L601.0 951.3 L601.8 950.7 L602.6 949.3 L603.4 949.9 L604.2 952.0 L605.0 950.0 L605.8 948.1 L606.6 951.0 L607.4 950.5 L608.2 949.5 L609.0 949.1 L609.8 948.2 L610.6 949.9 L611.4 950.0 L612.2 949.4 L613.0 949.4 L613.8 949.4 L614.6 950.7 L615.4 950.1 L616.2 951.4 L617.0 949.9 L617.8 949.6 L618.6 949.6 L619.4 949.6 L620.2 950.1 L621.0 951.3 L621.8 951.9 L622.6 950.1 L623.4 951.7 L624.2 951.2 L625.0 952.4 L625.8 951.3 L626.6 950.3 L627.4 951.5 L628.2 951.7 L629.0 950.7 L629.8 950.8 L630.6 950.9 L631.4 951.0 L632.2 949.2 L633.0 949.0 L633.8 950.0 L634.6 950.5 L635.4 949.9 L636.2 948.6 L637.0 950.8 L637.8 950.1 L638.6 949.1 L639.4 951.1 L640.2 951.4 L641.0 951.3 L641.8 951.1 L642.6 950.7 L643.4 949.1 L644.2 949.4 L645.0 949.8 L645.8 950.1 L646.6 950.0 L647.4 948.6 L648.2 948.4 L649.0 948.5 L649.8 948.6 L650.6 948.0 L651.4 946.9 L652.2 947.0 L653.0 948.3 L653.8 948.4 L654.6 948.9 L655.4 946.8 L656.2 947.3 L657.0 948.6 L657.8 946.4 L658.6 946.4 L659.4 945.7 L660.2 948.0 L661.0 947.7 L661.8 947.0 L662.6 947.3 L663.4 947.1 L664.2 947.9 L665.0 948.3 L665.8 948.2 L666.6 947.5 L667.4 947.6 L668.2 947.6 L669.0 947.8 L669.8 945.1 L670.6 946.0 L671.4 946.0 L672.2 946.0 L673.0 945.6 L673.8 945.5 L674.6 945.9 L675.4 945.7 L676.2 945.4 L677.0 944.2 L677.8 943.5 L678.6 943.6 L679.4 942.6 L680.2 943.3 L681.0 943.1 L681.8 942.1 L682.6 941.5 L683.4 942.5 L684.2 942.7 L685.0 945.1 L685.8 944.7 L686.6 942.9 L687.4 942.5 L688.2 941.8 L689.0 941.6 L689.8 941.8 L690.6 942.1 L691.4 941.6 L692.2 942.6 L693.0 942.7 L693.8 943.8 L694.6 941.1 L695.4 941.9" fill="none" stroke="#0000cc" stroke-width="1.9" stroke-linejoin="round"/>
<path d="M125.0 982.6 L125.8 980.7 L126.6 981.0 L127.4 980.9 L128.2 981.5 L129.0 979.8 L129.8 980.1 L130.6 979.9 L131.4 979.6 L132.2 979.7 L133.0 980.1 L133.8 980.5 L134.6 980.1 L135.4 981.1 L136.2 980.7 L137.0 978.2 L137.8 981.3 L138.6 981.1 L139.4 980.8 L140.2 981.7 L141.0 982.1 L141.8 982.1 L142.6 981.4 L143.4 982.2 L144.2 981.0 L145.0 983.4 L145.8 981.9 L146.6 982.4 L147.4 982.9 L148.2 983.3 L149.0 983.1 L149.8 983.8 L150.6 980.3 L151.4 982.1 L152.2 982.7 L153.0 982.6 L153.8 984.3 L154.6 982.7 L155.4 982.9 L156.2 981.2 L157.0 982.6 L157.8 981.4 L158.6 981.0 L159.4 984.4 L160.2 984.0 L161.0 983.3 L161.8 983.1 L162.6 981.6 L163.4 981.5 L164.2 982.8 L165.0 981.0 L165.8 982.6 L166.6 981.3 L167.4 982.6 L168.2 982.0 L169.0 984.4 L169.8 984.6 L170.6 983.3 L171.4 981.6 L172.2 982.1 L173.0 982.9 L173.8 982.4 L174.6 983.4 L175.4 984.5 L176.2 984.0 L177.0 983.6 L177.8 984.7 L178.6 984.2 L179.4 985.1 L180.2 984.5 L181.0 986.1 L181.8 985.1 L182.6 984.1 L183.4 984.9 L184.2 984.6 L185.0 984.3 L185.8 985.0 L186.6 986.2 L187.4 984.0 L188.2 985.1 L189.0 985.4 L189.8 985.5 L190.6 986.3 L191.4 984.7 L192.2 985.9 L193.0 985.5 L193.8 985.6 L194.6 985.4 L195.4 985.1 L196.2 984.9 L197.0 985.6 L197.8 987.4 L198.6 987.1 L199.4 986.7 L200.2 986.3 L201.0 985.2 L201.8 985.8 L202.6 987.3 L203.4 984.7 L204.2 985.7 L205.0 986.2 L205.8 985.6 L206.6 985.9 L207.4 986.5 L208.2 987.6 L209.0 987.3 L209.8 987.6 L210.6 986.6 L211.4 986.8 L212.2 986.4 L213.0 986.5 L213.8 985.9 L214.6 986.9 L215.4 988.0 L216.2 987.0 L217.0 987.2 L217.8 987.7 L218.6 987.4 L219.4 988.2 L220.2 988.0 L221.0 986.8 L221.8 986.5 L222.6 988.2 L223.4 988.8 L224.2 989.5 L225.0 989.1 L225.8 988.9 L226.6 987.3 L227.4 989.5 L228.2 988.2 L229.0 989.5 L229.8 988.1 L230.6 988.0 L231.4 988.8 L232.2 988.6 L233.0 988.3 L233.8 989.7 L234.6 990.0 L235.4 989.9 L236.2 989.3 L237.0 988.6 L237.8 988.7 L238.6 988.6 L239.4 988.9 L240.2 989.7 L241.0 989.0 L241.8 988.2 L242.6 988.0 L243.4 989.5 L244.2 989.0 L245.0 988.8 L245.8 988.7 L246.6 988.9 L247.4 988.5 L248.2 989.2 L249.0 989.1 L249.8 985.6 L250.6 986.9 L251.4 990.3 L252.2 987.6 L253.0 988.0 L253.8 989.1 L254.6 988.5 L255.4 989.5 L256.2 987.6 L257.0 987.0 L257.8 987.7 L258.6 987.6 L259.4 987.2 L260.2 988.6 L261.0 988.9 L261.8 988.8 L262.6 988.4 L263.4 989.1 L264.2 989.1 L265.0 988.7 L265.8 989.8 L266.6 990.2 L267.4 990.2 L268.2 990.9 L269.0 989.7 L269.8 990.3 L270.6 990.2 L271.4 992.1 L272.2 992.1 L273.0 993.7 L273.8 993.9 L274.6 992.3 L275.4 991.2 L276.2 992.2 L277.0 992.0 L277.8 992.0 L278.6 991.3 L279.4 992.5 L280.2 992.6 L281.0 992.9 L281.8 993.0 L282.6 991.9 L283.4 990.4 L284.2 991.7 L285.0 991.9 L285.8 992.1 L286.6 993.5 L287.4 993.1 L288.2 994.4 L289.0 993.7 L289.8 994.0 L290.6 993.9 L291.4 994.2 L292.2 992.5 L293.0 994.0 L293.8 993.7 L294.6 992.7 L295.4 993.8 L296.2 993.9 L297.0 994.9 L297.8 994.7 L298.6 994.4 L299.4 992.5 L300.2 994.9 L301.0 995.7 L301.8 995.4 L302.6 995.1 L303.4 995.8 L304.2 994.3 L305.0 995.3 L305.8 995.1 L306.6 994.2 L307.4 995.3 L308.2 995.7 L309.0 997.2 L309.8 997.1 L310.6 994.9 L311.4 993.9 L312.2 995.4 L313.0 995.9 L313.8 995.4 L314.6 994.9 L315.4 995.9 L316.2 995.5 L317.0 995.8 L317.8 997.4 L318.6 997.5 L319.4 996.7 L320.2 996.1 L321.0 996.8 L321.8 998.9 L322.6 997.7 L323.4 999.3 L324.2 997.7 L325.0 997.8 L325.8 998.7 L326.6 997.7 L327.4 998.3 L328.2 997.2 L329.0 998.8 L329.8 999.9 L330.6 998.7 L331.4 999.1 L332.2 998.8 L333.0 997.2 L333.8 1001.2 L334.6 1000.7 L335.4 1000.8 L336.2 1000.5 L337.0 1000.3 L337.8 1002.3 L338.6 999.3 L339.4 999.7 L340.2 999.9 L341.0 1000.2 L341.8 1001.2 L342.6 1000.3 L343.4 999.6 L344.2 999.6 L345.0 1001.1 L345.8 1002.1 L346.6 1002.5 L347.4 1003.4 L348.2 1001.9 L349.0 1002.8 L349.8 1002.9 L350.6 1002.2 L351.4 1001.5 L352.2 1002.8 L353.0 1001.8 L353.8 1001.9 L354.6 1001.3 L355.4 1003.6 L356.2 1002.9 L357.0 1002.2 L357.8 1002.3 L358.6 1002.4 L359.4 1002.7 L360.2 1001.3 L361.0 1001.3 L361.8 1002.8 L362.6 1004.0 L363.4 1002.6 L364.2 1003.2 L365.0 1002.8 L365.8 1001.3 L366.6 1002.6 L367.4 1002.4 L368.2 1004.2 L369.0 1004.0 L369.8 1004.1 L370.6 1003.0 L371.4 1004.1 L372.2 1002.7 L373.0 1004.2 L373.8 1005.9 L374.6 1004.2 L375.4 1005.6 L376.2 1006.7 L377.0 1005.8 L377.8 1006.8 L378.6 1006.3 L379.4 1005.8 L380.2 1004.3 L381.0 1004.8 L381.8 1004.7 L382.6 1008.3 L383.4 1007.8 L384.2 1007.3 L385.0 1006.2 L385.8 1008.7 L386.6 1007.1 L387.4 1009.1 L388.2 1009.6 L389.0 1009.0 L389.8 1008.3 L390.6 1008.8 L391.4 1008.0 L392.2 1009.6 L393.0 1011.3 L393.8 1011.4 L394.6 1011.7 L395.4 1010.4 L396.2 1011.0 L397.0 1010.2 L397.8 1010.6 L398.6 1012.0 L399.4 1014.2 L400.2 1013.0 L401.0 1013.0 L401.8 1011.6 L402.6 1013.4 L403.4 1013.4 L404.2 1013.3 L405.0 1013.5 L405.8 1015.4 L406.6 1016.2 L407.4 1018.2 L408.2 1018.8 L409.0 1019.9 L409.8 1022.3 L410.6 1023.6 L411.4 1025.2 L412.2 1027.4 L413.0 1028.0 L413.8 1028.3 L414.6 1029.8 L415.4 1030.9 L416.2 1034.2 L417.0 1035.9 L417.8 1038.7 L418.6 1041.7 L419.4 1042.8 L420.2 1045.6 L421.0 1049.2 L421.8 1050.3 L422.6 1052.5 L423.4 1053.2 L424.2 1053.9 L425.0 1055.8 L425.8 1055.5 L426.6 1058.6 L427.4 1059.3 L428.2 1061.9 L429.0 1061.3 L429.8 1063.1 L430.6 1064.5 L431.4 1065.1 L432.2 1066.5 L433.0 1066.5 L433.8 1066.9 L434.6 1067.3 L435.4 1068.8 L436.2 1069.7 L437.0 1071.5 L437.8 1072.2 L438.6 1072.7 L439.4 1073.4 L440.2 1073.1 L441.0 1074.5 L441.8 1076.1 L442.6 1075.4 L443.4 1076.4 L444.2 1077.9 L445.0 1077.5 L445.8 1078.4 L446.6 1078.4 L447.4 1081.2 L448.2 1081.5 L449.0 1081.6 L449.8 1080.2 L450.6 1081.2 L451.4 1081.0 L452.2 1081.7 L453.0 1081.2 L453.8 1081.8 L454.6 1081.2 L455.4 1082.1 L456.2 1083.8 L457.0 1081.7 L457.8 1081.1 L458.6 1082.7 L459.4 1083.6 L460.2 1082.9 L461.0 1083.5 L461.8 1083.6 L462.6 1083.7 L463.4 1084.5 L464.2 1082.9 L465.0 1083.6 L465.8 1083.4 L466.6 1082.5 L467.4 1083.3 L468.2 1081.9 L469.0 1081.3 L469.8 1083.4 L470.6 1082.2 L471.4 1084.5 L472.2 1084.7 L473.0 1083.5 L473.8 1082.8 L474.6 1081.4 L475.4 1083.0 L476.2 1082.2 L477.0 1084.9 L477.8 1083.0 L478.6 1084.0 L479.4 1081.9 L480.2 1083.4 L481.0 1085.5 L481.8 1084.7 L482.6 1084.2 L483.4 1084.5 L484.2 1085.4 L485.0 1086.3 L485.8 1085.7 L486.6 1084.0 L487.4 1085.6 L488.2 1086.9 L489.0 1088.7 L489.8 1087.4 L490.6 1087.1 L491.4 1086.5 L492.2 1087.5 L493.0 1088.9 L493.8 1087.0 L494.6 1087.4 L495.4 1086.5 L496.2 1086.6 L497.0 1087.1 L497.8 1087.9 L498.6 1087.0 L499.4 1087.2 L500.2 1088.8 L501.0 1088.6 L501.8 1088.7 L502.6 1088.5 L503.4 1087.9 L504.2 1088.3 L505.0 1088.5 L505.8 1088.1 L506.6 1089.0 L507.4 1088.3 L508.2 1089.0 L509.0 1088.5 L509.8 1089.0 L510.6 1088.0 L511.4 1087.7 L512.2 1087.2 L513.0 1089.2 L513.8 1089.3 L514.6 1089.1 L515.4 1089.2 L516.2 1087.5 L517.0 1087.4 L517.8 1086.4 L518.6 1084.5 L519.4 1085.0 L520.2 1084.3 L521.0 1086.2 L521.8 1084.7 L522.6 1084.2 L523.4 1085.4 L524.2 1084.7 L525.0 1083.2 L525.8 1083.9 L526.6 1083.2 L527.4 1085.1 L528.2 1083.1 L529.0 1082.6 L529.8 1080.5 L530.6 1081.6 L531.4 1084.3 L532.2 1083.3 L533.0 1082.0 L533.8 1082.7 L534.6 1082.3 L535.4 1082.4 L536.2 1084.9 L537.0 1085.4 L537.8 1085.2 L538.6 1085.3 L539.4 1083.0 L540.2 1081.3 L541.0 1083.3 L541.8 1083.7 L542.6 1083.6 L543.4 1083.5 L544.2 1084.3 L545.0 1084.5 L545.8 1084.6 L546.6 1085.1 L547.4 1084.9 L548.2 1084.9 L549.0 1086.7 L549.8 1086.1 L550.6 1088.0 L551.4 1087.4 L552.2 1086.7 L553.0 1087.5 L553.8 1086.3 L554.6 1086.3 L555.4 1086.2 L556.2 1086.5 L557.0 1087.3 L557.8 1088.9 L558.6 1088.1 L559.4 1086.4 L560.2 1086.0 L561.0 1085.0 L561.8 1087.0 L562.6 1087.8 L563.4 1087.6 L564.2 1087.6 L565.0 1087.7 L565.8 1087.7 L566.6 1087.9 L567.4 1087.6 L568.2 1086.3 L569.0 1087.7 L569.8 1088.5 L570.6 1086.1 L571.4 1086.6 L572.2 1086.2 L573.0 1087.6 L573.8 1087.6 L574.6 1089.3 L575.4 1089.7 L576.2 1088.5 L577.0 1088.2 L577.8 1088.2 L578.6 1089.4 L579.4 1088.5 L580.2 1089.6 L581.0 1088.4 L581.8 1090.4 L582.6 1090.7 L583.4 1089.5 L584.2 1089.6 L585.0 1090.6 L585.8 1091.2 L586.6 1088.7 L587.4 1090.8 L588.2 1092.9 L589.0 1092.0 L589.8 1091.0 L590.6 1093.2 L591.4 1093.2 L592.2 1093.3 L593.0 1093.9 L593.8 1092.5 L594.6 1092.6 L595.4 1092.4 L596.2 1092.4 L597.0 1093.2 L597.8 1093.0 L598.6 1095.4 L599.4 1095.4 L600.2 1095.8 L601.0 1093.7 L601.8 1094.4 L602.6 1094.9 L603.4 1095.4 L604.2 1096.0 L605.0 1095.2 L605.8 1095.0 L606.6 1096.8 L607.4 1098.7 L608.2 1099.4 L609.0 1097.6 L609.8 1096.7 L610.6 1097.4 L611.4 1098.1 L612.2 1099.7 L613.0 1098.5 L613.8 1097.8 L614.6 1099.4 L615.4 1098.4 L616.2 1098.0 L617.0 1099.2 L617.8 1099.0 L618.6 1098.2 L619.4 1098.7 L620.2 1098.8 L621.0 1099.0 L621.8 1098.7 L622.6 1099.8 L623.4 1099.4 L624.2 1099.1 L625.0 1100.6 L625.8 1099.3 L626.6 1100.5 L627.4 1100.7 L628.2 1099.9 L629.0 1100.1 L629.8 1098.6 L630.6 1099.6 L631.4 1098.8 L632.2 1098.6 L633.0 1099.6 L633.8 1099.0 L634.6 1099.6 L635.4 1100.0 L636.2 1100.7 L637.0 1100.4 L637.8 1100.8 L638.6 1099.6 L639.4 1099.6 L640.2 1100.7 L641.0 1101.7 L641.8 1101.6 L642.6 1100.7 L643.4 1100.1 L644.2 1100.1 L645.0 1102.2 L645.8 1101.1 L646.6 1101.6 L647.4 1102.7 L648.2 1103.0 L649.0 1102.3 L649.8 1104.6 L650.6 1103.9 L651.4 1103.9 L652.2 1104.5 L653.0 1103.8 L653.8 1104.6 L654.6 1104.3 L655.4 1103.6 L656.2 1103.5 L657.0 1104.8 L657.8 1105.1 L658.6 1105.1 L659.4 1105.0 L660.2 1105.2 L661.0 1106.4 L661.8 1107.2 L662.6 1106.3 L663.4 1106.6 L664.2 1104.8 L665.0 1105.0 L665.8 1105.5 L666.6 1105.7 L667.4 1107.3 L668.2 1105.4 L669.0 1107.2 L669.8 1108.1 L670.6 1109.9 L671.4 1108.2 L672.2 1108.6 L673.0 1109.8 L673.8 1109.9 L674.6 1108.3 L675.4 1108.5 L676.2 1107.9 L677.0 1109.0 L677.8 1110.0 L678.6 1111.2 L679.4 1111.0 L680.2 1111.3 L681.0 1111.8 L681.8 1110.3 L682.6 1111.3 L683.4 1112.0 L684.2 1111.4 L685.0 1110.5 L685.8 1111.4 L686.6 1111.8 L687.4 1112.5 L688.2 1110.7 L689.0 1111.4 L689.8 1113.9 L690.6 1114.3 L691.4 1113.2 L692.2 1112.8 L693.0 1112.8 L693.8 1112.3 L694.6 1112.7 L695.4 1113.4" fill="none" stroke="#006000" stroke-width="1.9" stroke-linejoin="round"/>
<path d="M125.0 1062.3 L125.8 1063.5 L126.6 1061.8 L127.4 1063.1 L128.2 1062.3 L129.0 1062.0 L129.8 1064.1 L130.6 1063.1 L131.4 1062.6 L132.2 1063.2 L133.0 1063.8 L133.8 1062.9 L134.6 1063.2 L135.4 1061.7 L136.2 1061.9 L137.0 1061.8 L137.8 1060.9 L138.6 1060.5 L139.4 1060.2 L140.2 1061.5 L141.0 1062.1 L141.8 1062.1 L142.6 1062.6 L143.4 1061.3 L144.2 1062.2 L145.0 1062.8 L145.8 1063.5 L146.6 1062.2 L147.4 1062.2 L148.2 1060.5 L149.0 1061.4 L149.8 1060.0 L150.6 1060.3 L151.4 1062.9 L152.2 1060.5 L153.0 1062.6 L153.8 1062.9 L154.6 1062.7 L155.4 1063.8 L156.2 1064.6 L157.0 1065.7 L157.8 1065.1 L158.6 1064.4 L159.4 1063.9 L160.2 1063.3 L161.0 1063.9 L161.8 1063.2 L162.6 1064.7 L163.4 1062.2 L164.2 1062.0 L165.0 1062.0 L165.8 1061.1 L166.6 1064.9 L167.4 1062.0 L168.2 1063.3 L169.0 1063.6 L169.8 1066.0 L170.6 1063.4 L171.4 1065.7 L172.2 1064.8 L173.0 1065.3 L173.8 1065.0 L174.6 1066.4 L175.4 1065.3 L176.2 1066.1 L177.0 1067.0 L177.8 1069.1 L178.6 1066.1 L179.4 1069.4 L180.2 1070.4 L181.0 1069.8 L181.8 1070.9 L182.6 1071.7 L183.4 1075.0 L184.2 1075.7 L185.0 1077.1 L185.8 1079.2 L186.6 1081.5 L187.4 1083.9 L188.2 1085.4 L189.0 1090.4 L189.8 1089.6 L190.6 1089.2 L191.4 1094.0 L192.2 1097.1 L193.0 1100.2 L193.8 1102.1 L194.6 1104.2 L195.4 1106.9 L196.2 1109.5 L197.0 1110.0 L197.8 1111.3 L198.6 1115.2 L199.4 1116.2 L200.2 1116.2 L201.0 1121.0 L201.8 1122.4 L202.6 1123.0 L203.4 1123.9 L204.2 1126.2 L205.0 1126.0 L205.8 1126.1 L206.6 1126.3 L207.4 1127.5 L208.2 1129.6 L209.0 1128.9 L209.8 1127.7 L210.6 1129.5 L211.4 1129.6 L212.2 1130.6 L213.0 1131.4 L213.8 1130.4 L214.6 1130.2 L215.4 1130.3 L216.2 1129.3 L217.0 1130.9 L217.8 1132.3 L218.6 1131.7 L219.4 1131.1 L220.2 1131.0 L221.0 1130.5 L221.8 1130.3 L222.6 1130.7 L223.4 1130.5 L224.2 1130.8 L225.0 1129.9 L225.8 1131.5 L226.6 1131.9 L227.4 1130.8 L228.2 1129.4 L229.0 1131.2 L229.8 1133.0 L230.6 1131.8 L231.4 1131.7 L232.2 1131.7 L233.0 1133.0 L233.8 1132.1 L234.6 1133.8 L235.4 1133.3 L236.2 1134.5 L237.0 1134.2 L237.8 1134.0 L238.6 1132.8 L239.4 1133.4 L240.2 1134.1 L241.0 1135.5 L241.8 1135.7 L242.6 1135.0 L243.4 1136.0 L244.2 1137.1 L245.0 1136.5 L245.8 1136.0 L246.6 1136.0 L247.4 1137.4 L248.2 1137.6 L249.0 1136.4 L249.8 1137.4 L250.6 1136.9 L251.4 1136.6 L252.2 1138.6 L253.0 1139.0 L253.8 1137.7 L254.6 1138.1 L255.4 1138.8 L256.2 1138.0 L257.0 1138.4 L257.8 1139.4 L258.6 1137.5 L259.4 1139.1 L260.2 1140.2 L261.0 1140.5 L261.8 1139.0 L262.6 1140.2 L263.4 1139.6 L264.2 1141.0 L265.0 1141.7 L265.8 1141.7 L266.6 1140.9 L267.4 1140.9 L268.2 1142.5 L269.0 1141.5 L269.8 1142.7 L270.6 1143.3 L271.4 1142.8 L272.2 1145.5 L273.0 1144.2 L273.8 1146.0 L274.6 1142.6 L275.4 1141.4 L276.2 1144.3 L277.0 1145.1 L277.8 1144.6 L278.6 1144.8 L279.4 1143.2 L280.2 1144.1 L281.0 1144.1 L281.8 1145.1 L282.6 1146.6 L283.4 1146.4 L284.2 1146.7 L285.0 1145.8 L285.8 1145.8 L286.6 1146.4 L287.4 1146.3 L288.2 1147.8 L289.0 1146.3 L289.8 1148.6 L290.6 1146.6 L291.4 1148.0 L292.2 1146.7 L293.0 1148.8 L293.8 1148.0 L294.6 1148.1 L295.4 1148.6 L296.2 1147.5 L297.0 1146.8 L297.8 1145.7 L298.6 1148.7 L299.4 1147.9 L300.2 1147.9 L301.0 1148.6 L301.8 1150.9 L302.6 1148.2 L303.4 1149.3 L304.2 1149.2 L305.0 1150.2 L305.8 1148.3 L306.6 1149.1 L307.4 1150.7 L308.2 1152.1 L309.0 1152.7 L309.8 1150.6 L310.6 1150.8 L311.4 1150.9 L312.2 1149.7 L313.0 1149.3 L313.8 1151.5 L314.6 1151.8 L315.4 1151.6 L316.2 1153.0 L317.0 1151.4 L317.8 1152.4 L318.6 1152.4 L319.4 1152.4 L320.2 1153.0 L321.0 1153.0 L321.8 1153.1 L322.6 1153.2 L323.4 1155.0 L324.2 1153.4 L325.0 1154.3 L325.8 1154.2 L326.6 1153.3 L327.4 1154.2 L328.2 1152.9 L329.0 1154.6 L329.8 1153.3 L330.6 1153.2 L331.4 1154.0 L332.2 1154.9 L333.0 1155.3 L333.8 1155.5 L334.6 1154.6 L335.4 1153.6 L336.2 1154.8 L337.0 1155.0 L337.8 1153.9 L338.6 1155.5 L339.4 1155.4 L340.2 1154.2 L341.0 1155.4 L341.8 1154.1 L342.6 1154.2 L343.4 1155.6 L344.2 1154.3 L345.0 1155.5 L345.8 1154.6 L346.6 1156.5 L347.4 1155.8 L348.2 1156.6 L349.0 1155.3 L349.8 1156.1 L350.6 1157.7 L351.4 1157.9 L352.2 1155.7 L353.0 1157.8 L353.8 1158.6 L354.6 1157.7 L355.4 1159.2 L356.2 1157.4 L357.0 1157.8 L357.8 1159.2 L358.6 1160.0 L359.4 1160.3 L360.2 1158.0 L361.0 1156.5 L361.8 1158.1 L362.6 1156.8 L363.4 1157.6 L364.2 1156.7 L365.0 1158.7 L365.8 1159.1 L366.6 1159.0 L367.4 1158.3 L368.2 1158.4 L369.0 1158.4 L369.8 1159.2 L370.6 1159.6 L371.4 1160.1 L372.2 1159.7 L373.0 1162.0 L373.8 1161.4 L374.6 1162.6 L375.4 1163.0 L376.2 1161.0 L377.0 1159.6 L377.8 1162.1 L378.6 1161.4 L379.4 1161.7 L380.2 1161.6 L381.0 1162.0 L381.8 1160.9 L382.6 1161.7 L383.4 1161.7 L384.2 1162.2 L385.0 1160.2 L385.8 1162.7 L386.6 1163.2 L387.4 1161.4 L388.2 1161.8 L389.0 1162.9 L389.8 1163.9 L390.6 1163.7 L391.4 1165.2 L392.2 1164.4 L393.0 1163.2 L393.8 1163.2 L394.6 1164.7 L395.4 1164.0 L396.2 1165.3 L397.0 1166.0 L397.8 1165.9 L398.6 1166.4 L399.4 1165.5 L400.2 1165.4 L401.0 1164.8 L401.8 1164.6 L402.6 1163.6 L403.4 1164.2 L404.2 1164.0 L405.0 1163.6 L405.8 1165.0 L406.6 1165.8 L407.4 1165.3 L408.2 1166.9 L409.0 1167.0 L409.8 1167.2 L410.6 1165.7 L411.4 1164.2 L412.2 1165.8 L413.0 1166.2 L413.8 1166.8 L414.6 1166.8 L415.4 1167.7 L416.2 1166.5 L417.0 1167.2 L417.8 1165.9 L418.6 1164.1 L419.4 1165.4 L420.2 1167.9 L421.0 1165.6 L421.8 1167.6 L422.6 1166.7 L423.4 1166.7 L424.2 1167.2 L425.0 1167.7 L425.8 1166.8 L426.6 1167.8 L427.4 1168.5 L428.2 1169.4 L429.0 1168.2 L429.8 1170.2 L430.6 1171.5 L431.4 1172.5 L432.2 1169.3 L433.0 1169.8 L433.8 1168.1 L434.6 1169.9 L435.4 1170.9 L436.2 1169.6 L437.0 1168.9 L437.8 1170.6 L438.6 1171.6 L439.4 1170.7 L440.2 1170.9 L441.0 1168.9 L441.8 1170.0 L442.6 1171.4 L443.4 1171.9 L444.2 1173.7 L445.0 1171.6 L445.8 1169.9 L446.6 1172.0 L447.4 1171.8 L448.2 1172.7 L449.0 1173.6 L449.8 1173.8 L450.6 1174.8 L451.4 1175.2 L452.2 1172.4 L453.0 1173.1 L453.8 1175.5 L454.6 1174.0 L455.4 1174.9 L456.2 1174.3 L457.0 1173.8 L457.8 1175.7 L458.6 1175.9 L459.4 1174.8 L460.2 1175.6 L461.0 1173.8 L461.8 1173.8 L462.6 1175.6 L463.4 1175.4 L464.2 1174.4 L465.0 1175.6 L465.8 1176.0 L466.6 1177.2 L467.4 1177.4 L468.2 1176.4 L469.0 1175.9 L469.8 1176.2 L470.6 1176.3 L471.4 1178.1 L472.2 1179.0 L473.0 1179.2 L473.8 1178.4 L474.6 1177.6 L475.4 1178.5 L476.2 1177.6 L477.0 1178.0 L477.8 1176.2 L478.6 1176.9 L479.4 1179.1 L480.2 1177.4 L481.0 1176.5 L481.8 1177.5 L482.6 1179.8 L483.4 1180.4 L484.2 1178.9 L485.0 1178.3 L485.8 1178.5 L486.6 1177.8 L487.4 1178.6 L488.2 1178.7 L489.0 1177.7 L489.8 1178.3 L490.6 1179.0 L491.4 1178.8 L492.2 1178.5 L493.0 1180.6 L493.8 1182.4 L494.6 1181.0 L495.4 1180.5 L496.2 1181.4 L497.0 1181.1 L497.8 1180.6 L498.6 1182.7 L499.4 1181.1 L500.2 1181.0 L501.0 1181.1 L501.8 1181.1 L502.6 1181.8 L503.4 1183.0 L504.2 1184.4 L505.0 1184.2 L505.8 1183.6 L506.6 1182.1 L507.4 1182.9 L508.2 1182.3 L509.0 1183.0 L509.8 1184.4 L510.6 1184.2 L511.4 1183.8 L512.2 1183.1 L513.0 1183.7 L513.8 1184.1 L514.6 1183.3 L515.4 1183.5 L516.2 1185.0 L517.0 1183.0 L517.8 1183.6 L518.6 1183.2 L519.4 1185.8 L520.2 1185.8 L521.0 1185.8 L521.8 1185.8 L522.6 1185.6 L523.4 1185.6 L524.2 1183.7 L525.0 1184.9 L525.8 1185.7 L526.6 1184.0 L527.4 1185.6 L528.2 1186.1 L529.0 1184.1 L529.8 1184.4 L530.6 1184.7 L531.4 1184.6 L532.2 1185.5 L533.0 1184.2 L533.8 1184.8 L534.6 1185.5 L535.4 1186.2 L536.2 1185.8 L537.0 1185.4 L537.8 1186.2 L538.6 1183.8 L539.4 1185.9 L540.2 1185.5 L541.0 1184.6 L541.8 1185.1 L542.6 1184.0 L543.4 1183.5 L544.2 1185.1 L545.0 1185.3 L545.8 1187.0 L546.6 1186.1 L547.4 1185.4 L548.2 1185.6 L549.0 1188.4 L549.8 1187.8 L550.6 1187.1 L551.4 1186.5 L552.2 1186.3 L553.0 1187.3 L553.8 1188.3 L554.6 1189.4 L555.4 1189.9 L556.2 1189.3 L557.0 1188.3 L557.8 1187.8 L558.6 1186.2 L559.4 1187.1 L560.2 1188.9 L561.0 1188.8 L561.8 1189.6 L562.6 1188.3 L563.4 1190.1 L564.2 1190.2 L565.0 1190.1 L565.8 1190.5 L566.6 1188.1 L567.4 1189.0 L568.2 1189.1 L569.0 1191.9 L569.8 1191.0 L570.6 1190.4 L571.4 1191.7 L572.2 1190.3 L573.0 1192.3 L573.8 1191.0 L574.6 1191.3 L575.4 1190.6 L576.2 1192.1 L577.0 1189.8 L577.8 1191.9 L578.6 1191.2 L579.4 1191.9 L580.2 1191.0 L581.0 1192.1 L581.8 1192.6 L582.6 1193.2 L583.4 1193.2 L584.2 1193.6 L585.0 1194.2 L585.8 1193.1 L586.6 1192.0 L587.4 1191.5 L588.2 1193.4 L589.0 1193.1 L589.8 1194.5 L590.6 1194.0 L591.4 1192.9 L592.2 1194.5 L593.0 1196.2 L593.8 1194.7 L594.6 1193.5 L595.4 1193.3 L596.2 1195.0 L597.0 1194.2 L597.8 1194.2 L598.6 1195.3 L599.4 1195.1 L600.2 1195.2 L601.0 1194.7 L601.8 1194.5 L602.6 1195.3 L603.4 1195.6 L604.2 1196.3 L605.0 1195.5 L605.8 1196.1 L606.6 1196.5 L607.4 1196.4 L608.2 1196.9 L609.0 1197.6 L609.8 1197.1 L610.6 1196.9 L611.4 1195.8 L612.2 1196.8 L613.0 1196.9 L613.8 1196.7 L614.6 1196.2 L615.4 1197.6 L616.2 1200.1 L617.0 1198.9 L617.8 1198.2 L618.6 1198.4 L619.4 1197.6 L620.2 1198.0 L621.0 1197.5 L621.8 1197.4 L622.6 1198.4 L623.4 1198.8 L624.2 1198.6 L625.0 1198.0 L625.8 1198.9 L626.6 1198.0 L627.4 1199.6 L628.2 1199.2 L629.0 1199.5 L629.8 1200.5 L630.6 1200.7 L631.4 1199.0 L632.2 1199.6 L633.0 1200.5 L633.8 1199.5 L634.6 1197.9 L635.4 1199.8 L636.2 1200.6 L637.0 1201.4 L637.8 1201.5 L638.6 1201.7 L639.4 1202.0 L640.2 1203.3 L641.0 1203.0 L641.8 1203.0 L642.6 1202.2 L643.4 1203.6 L644.2 1202.9 L645.0 1203.7 L645.8 1201.3 L646.6 1203.0 L647.4 1203.4 L648.2 1203.3 L649.0 1205.2 L649.8 1205.1 L650.6 1204.7 L651.4 1204.4 L652.2 1206.8 L653.0 1206.7 L653.8 1206.7 L654.6 1205.4 L655.4 1207.2 L656.2 1207.2 L657.0 1206.6 L657.8 1206.7 L658.6 1205.3 L659.4 1207.3 L660.2 1206.4 L661.0 1208.2 L661.8 1207.6 L662.6 1207.3 L663.4 1208.3 L664.2 1208.6 L665.0 1207.5 L665.8 1208.2 L666.6 1209.3 L667.4 1208.9 L668.2 1207.8 L669.0 1208.6 L669.8 1208.3 L670.6 1208.6 L671.4 1209.5 L672.2 1209.8 L673.0 1209.9 L673.8 1208.5 L674.6 1210.2 L675.4 1210.3 L676.2 1210.3 L677.0 1210.9 L677.8 1213.0 L678.6 1210.6 L679.4 1209.6 L680.2 1211.7 L681.0 1211.0 L681.8 1212.9 L682.6 1211.4 L683.4 1211.5 L684.2 1213.0 L685.0 1213.6 L685.8 1213.5 L686.6 1213.6 L687.4 1213.1 L688.2 1212.8 L689.0 1213.0 L689.8 1214.6 L690.6 1214.7 L691.4 1214.2 L692.2 1214.4 L693.0 1215.1 L693.8 1215.8 L694.6 1214.8 L695.4 1214.6" fill="none" stroke="#ff0000" stroke-width="1.9" stroke-linejoin="round"/>
<path d="M565.6 824.0 L566.3 824.4 L567.0 823.4 L567.7 823.8 L568.4 824.5 L569.1 824.1 L569.8 825.1 L570.5 822.7 L571.2 822.8 L571.9 821.8 L572.6 821.4 L573.3 821.8 L574.0 822.4 L574.7 822.8 L575.4 823.0 L576.1 825.0 L576.8 824.1 L577.5 821.1 L578.2 822.0 L578.9 821.3 L579.6 821.2 L580.3 823.1 L581.0 821.9 L581.7 819.5 L582.4 821.0 L583.1 820.7 L583.8 819.5 L584.5 819.3 L585.2 819.4 L585.9 820.0 L586.6 819.6 L587.3 819.9 L588.0 822.0 L588.7 819.9 L589.4 819.2 L590.1 819.7 L590.8 821.3 L591.5 820.0 L592.2 821.9 L592.9 819.8 L593.6 819.6 L594.3 820.9 L595.0 820.6 L595.7 821.1 L596.4 822.6 L597.1 823.7 L597.8 823.7 L598.5 823.5 L599.2 825.5 L599.9 825.6 L600.6 825.2 L601.3 827.0 L602.0 825.7 L602.7 826.7 L603.4 828.0 L604.1 828.2 L604.8 828.4 L605.5 830.0 L606.2 830.2 L606.9 830.9 L607.6 831.3 L608.3 835.0 L609.0 835.2 L609.7 838.1 L610.4 839.1 L611.1 839.7 L611.8 842.0 L612.5 843.5 L613.2 844.9 L613.9 844.8 L614.6 847.4 L615.3 850.0 L616.0 850.8 L616.7 852.3 L617.4 853.9 L618.1 853.8 L618.8 856.1 L619.5 853.6 L620.2 854.7 L620.9 853.2 L621.6 856.9 L622.3 857.9 L623.0 860.6 L623.7 859.9 L624.4 858.4 L625.1 862.0 L625.8 860.4 L626.5 860.2 L627.2 861.5 L627.9 863.1 L628.6 862.6 L629.3 863.5 L630.0 861.7 L630.7 865.3 L631.4 864.8 L632.1 865.1 L632.8 865.8 L633.5 865.5 L634.2 865.5 L634.9 864.3 L635.6 864.8 L636.3 865.6 L637.0 866.6 L637.7 865.7 L638.4 865.6 L639.1 865.9 L639.8 866.3 L640.5 866.0 L641.2 865.5 L641.9 865.0 L642.6 866.7 L643.3 866.4 L644.0 866.0 L644.7 869.7 L645.4 868.2 L646.1 867.6 L646.8 866.7 L647.5 865.1 L648.2 866.9 L648.9 866.3 L649.6 866.2 L650.3 867.3 L651.0 867.7 L651.7 867.0 L652.4 866.5 L653.1 868.7 L653.8 867.9 L654.5 865.8 L655.2 867.1 L655.9 867.0 L656.6 866.8 L657.3 867.5 L658.0 867.3 L658.7 869.3 L659.4 868.0 L660.1 867.7 L660.8 868.6 L661.5 867.1 L662.2 868.3 L662.9 867.6 L663.6 868.8 L664.3 867.0 L665.0 867.8 L665.7 865.6 L666.4 866.0 L667.1 866.5 L667.8 867.1 L668.5 868.8 L669.2 869.1 L669.9 865.5 L670.6 864.8 L671.3 866.6 L672.0 866.2 L672.7 864.0 L673.4 865.1 L674.1 863.6 L674.8 863.2 L675.5 862.5 L676.2 863.3 L676.9 866.2 L677.6 865.0 L678.3 864.0 L679.0 866.4 L679.7 863.8 L680.4 863.2 L681.1 862.7 L681.8 863.2 L682.5 862.4 L683.2 864.0 L683.9 862.5 L684.6 862.8 L685.3 862.4 L686.0 860.9 L686.7 860.1 L687.4 860.7 L688.1 858.3 L688.8 859.8 L689.5 860.3 L690.2 860.3 L690.9 860.0 L691.6 860.2 L692.3 859.3 L693.0 860.2 L693.7 858.1 L694.4 860.2 L695.1 859.0 L695.8 860.2" fill="none" stroke="#ff00cc" stroke-width="1.9" stroke-linejoin="round"/>
<text font-family="Liberation Serif" stroke="#fff" stroke-width="0.25" font-size="25.00" fill="#ff00cc" transform="translate(565.69 810.80) scale(1.1899 1)" ><tspan >10.5 GPa</tspan></text>
<text font-family="Liberation Serif" stroke="#fff" stroke-width="0.26" font-size="25.00" fill="#0000cc" transform="translate(566.04 933.50) scale(1.1964 1)" ><tspan >9.3 GPa</tspan></text>
<text font-family="Liberation Serif" stroke="#fff" stroke-width="0.26" font-size="25.00" fill="#006000" transform="translate(565.82 1076.70) scale(1.2016 1)" ><tspan >7.9 GPa</tspan></text>
<text font-family="Liberation Serif" stroke="#fff" stroke-width="0.25" font-size="25.00" fill="#ff0000" transform="translate(565.72 1182.20) scale(1.1916 1)" ><tspan >6.0 GPa</tspan></text>
<path d="M167.4 1027.4L223.5 1183M149.25 1118L300 1150.5" stroke="#000" stroke-width="1.8" fill="none"/>
<path d="M203.6 1090.8V1165" stroke="#000" stroke-width="2"/>
<path d="M203.6 1181.5 L208.4 1163.5 L203.6 1165 L198.8 1163.5 Z" fill="#000"/>
<text font-family="Liberation Serif" stroke="#fff" stroke-width="0.37" font-size="25.00" fill="#000" transform="translate(167.92 1176.25) scale(1.2732 1)" ><tspan font-style="italic">T</tspan></text>
<text font-family="Liberation Serif" font-size="17.00" fill="#000" transform="translate(183.97 1180.50) scale(1.2863 1)" ><tspan >c</tspan></text>
<path d="M295.00 677.30V835.80H512.00V677.30" fill="none" stroke="#000" stroke-width="1.80"/>
<path d="M283.50 835.80H295.00M283.50 797.55H295.00M283.50 759.30H295.00M283.50 721.05H295.00M283.50 682.80H295.00M295.00 835.80V845.80M307.00 835.80V840.80M319.00 835.80V840.80M331.00 835.80V840.80M343.00 835.80V840.80M355.00 835.80V845.80M367.00 835.80V840.80M379.00 835.80V840.80M391.00 835.80V840.80M403.00 835.80V840.80M415.00 835.80V845.80M427.00 835.80V840.80M439.00 835.80V840.80M451.00 835.80V840.80M463.00 835.80V840.80M475.00 835.80V845.80M487.00 835.80V840.80M499.00 835.80V840.80M511.00 835.80V840.80" stroke="#000" stroke-width="1.80" fill="none"/>
<text font-family="Liberation Serif" stroke="#fff" stroke-width="0.12" font-size="20.50" fill="#000" transform="translate(275.98 865.30) scale(1.1787 1)" ><tspan >100</tspan></text>
<text font-family="Liberation Serif" stroke="#fff" stroke-width="0.12" font-size="20.50" fill="#000" transform="translate(335.98 865.30) scale(1.1787 1)" ><tspan >150</tspan></text>
<text font-family="Liberation Serif" stroke="#fff" stroke-width="0.09" font-size="20.50" fill="#000" transform="translate(397.07 865.30) scale(1.1421 1)" ><tspan >200</tspan></text>
<text font-family="Liberation Serif" stroke="#fff" stroke-width="0.09" font-size="20.50" fill="#000" transform="translate(457.07 865.30) scale(1.1421 1)" ><tspan >250</tspan></text>
<text font-family="Liberation Serif" stroke="#fff" stroke-width="0.38" font-size="25.00" fill="#000" transform="translate(367.38 895.40) scale(1.4187 1)" ><tspan font-style="italic">T</tspan></text>
<text font-family="Liberation Serif" stroke="#fff" stroke-width="0.32" font-size="25.00" fill="#000" transform="translate(395.44 895.40) scale(1.2397 1)" ><tspan >(K)</tspan></text>
<text font-family="Liberation Serif" stroke="#fff" stroke-width="0.38" font-size="25.00" fill="#000" transform="translate(258.80 854.37) rotate(-90) scale(1.3634 1)" ><tspan font-style="italic">χ</tspan><tspan >′</tspan></text>
<text font-family="Liberation Serif" stroke="#fff" stroke-width="0.38" font-size="25.00" fill="#000" transform="translate(258.80 818.50) rotate(-90) scale(1.2754 1)" ><tspan >(arb. units)</tspan></text>
<path d="M295.00 722.07 L295.60 722.39 L296.20 722.37 L296.80 721.60 L297.40 721.07 L298.00 721.28 L298.60 721.23 L299.20 721.20 L299.80 720.15 L300.40 719.97 L301.00 720.55 L301.60 720.35 L302.20 720.60 L302.80 720.28 L302.75 719.90 L303.00 715.90 L303.25 719.90 L303.40 719.78 L304.00 719.60 L304.60 720.48 L305.20 719.41 L305.80 719.27 L305.75 719.56 L306.00 716.56 L306.25 719.56 L306.40 719.19 L307.00 719.65 L307.60 719.71 L308.20 719.57 L308.25 719.71 L308.50 713.71 L308.75 719.71 L308.80 719.71 L309.40 719.86 L309.75 719.80 L310.00 712.80 L310.25 719.80 L310.00 720.04 L310.60 720.27 L310.95 719.97 L311.20 714.97 L311.45 719.97 L311.20 720.04 L311.80 719.43 L312.40 720.38 L312.75 720.22 L313.00 716.22 L313.25 720.22 L313.00 719.72 L313.60 720.24 L314.20 719.87 L314.80 720.47 L315.40 720.36 L315.25 720.67 L315.50 717.17 L315.75 720.67 L316.00 720.91 L316.60 722.19 L316.75 721.17 L317.00 718.17 L317.25 721.17 L317.20 721.22 L317.80 721.73 L318.40 720.84 L319.00 720.90 L319.60 720.93 L320.20 720.37 L320.80 720.23 L321.40 719.84 L322.00 719.15 L322.60 719.60 L323.20 719.02 L323.80 719.86 L324.40 718.93 L325.00 719.25 L325.60 718.92 L326.20 719.15 L326.80 718.51 L327.40 718.97 L328.00 718.48 L328.60 718.87 L329.20 718.55 L329.80 718.28 L330.40 717.90 L331.00 718.40 L331.60 718.25 L332.20 718.62 L332.80 717.87 L333.40 718.16 L334.00 718.10 L334.60 717.98 L335.20 717.91 L335.80 717.86 L336.40 717.54 L337.00 717.35 L337.60 717.53 L338.20 717.83 L338.80 718.11 L339.40 717.88 L340.00 717.87 L340.60 717.70 L341.20 717.59 L341.80 717.34 L342.40 717.47 L343.00 717.75 L343.60 716.94 L344.20 716.73 L344.80 717.59 L345.40 716.91 L346.00 717.09 L346.60 716.98 L347.20 716.20 L347.80 717.38 L348.40 716.96 L349.00 716.16 L349.60 716.12 L350.20 715.66 L350.80 715.07 L351.40 715.10 L352.00 715.03 L352.60 715.05 L353.20 714.67 L353.80 714.20 L354.40 714.41 L355.00 713.43 L355.60 713.74 L356.20 713.61 L356.80 712.88 L357.40 712.11 L358.00 712.18 L358.60 712.64 L359.20 712.80 L359.80 713.22 L360.40 712.39 L361.00 712.80 L361.60 713.09 L362.20 712.86 L362.80 712.15 L363.40 713.55 L364.00 714.48 L364.60 714.42 L365.20 714.15 L365.80 714.72 L366.40 714.98 L367.00 715.62 L367.60 714.82 L368.20 714.49 L368.80 714.85 L369.40 714.12 L370.00 714.65 L370.60 713.79 L371.20 713.89 L371.80 714.34 L372.40 714.62 L373.00 714.38 L373.60 714.29 L374.20 713.57 L374.80 713.99 L375.40 714.06 L376.00 714.11 L376.60 714.54 L377.20 714.24 L377.80 714.67 L378.40 714.45 L379.00 714.33 L379.60 714.52 L380.20 714.64 L380.80 714.74 L381.40 714.23 L382.00 714.28 L382.60 713.84 L383.20 714.84 L383.80 714.74 L384.40 714.13 L385.00 713.98 L385.60 713.68 L386.20 714.13 L386.80 714.10 L387.40 714.75 L388.00 714.03 L388.60 713.63 L389.20 713.00 L389.80 714.31 L390.40 713.83 L391.00 713.16 L391.60 713.74 L392.20 713.06 L392.80 714.79 L393.40 713.92 L394.00 713.68 L394.60 713.37 L395.20 712.63 L395.80 713.26 L396.40 712.69 L397.00 713.38 L397.60 712.35 L398.20 712.71 L398.80 713.39 L399.40 713.47 L400.00 712.41 L400.60 712.21 L401.20 712.99 L401.80 712.91 L402.40 712.34 L403.00 712.55 L403.60 712.65 L403.45 712.91 L403.70 710.41 L403.95 712.91 L404.20 712.58 L404.80 712.86 L405.40 713.64 L406.00 713.54 L406.60 714.11 L407.20 713.45 L407.80 713.53 L408.40 713.33 L409.00 713.72 L409.60 713.40 L410.20 713.33 L410.80 714.29 L411.40 714.65 L412.00 714.53 L412.60 714.82 L413.20 714.60 L413.80 714.43 L414.40 714.87 L415.00 714.87 L415.60 714.77 L416.20 714.73 L416.80 714.97 L417.40 715.64 L418.00 715.72 L418.60 715.46 L419.20 716.08 L419.80 715.60 L420.40 715.70 L421.00 715.88 L421.60 715.12 L422.20 714.68 L422.80 715.59 L423.40 715.04 L424.00 715.70 L424.60 715.39 L425.20 716.07 L425.80 716.43 L426.40 715.88 L427.00 717.31 L427.60 717.27 L428.20 717.63 L428.80 718.04 L429.40 718.75 L430.00 719.08 L430.60 719.42 L431.20 718.77 L431.80 719.35 L432.40 718.85 L433.00 719.77 L433.60 720.14 L434.20 719.78 L434.80 720.26 L435.40 720.37 L436.00 720.77 L436.60 720.25 L437.20 720.37 L437.80 720.51 L438.40 721.51 L439.00 721.33 L439.60 720.95 L440.20 721.12 L440.80 721.13 L441.40 721.21 L442.00 721.12 L442.60 721.12 L443.20 720.85 L443.80 721.11 L444.40 721.96 L445.00 721.62 L445.60 721.50 L446.20 721.45 L446.80 721.60 L447.40 721.74 L448.00 721.43 L448.60 721.75 L449.20 721.80 L449.80 721.49 L450.40 721.51 L451.00 721.47 L451.60 721.49 L452.20 722.20 L452.80 721.10 L453.40 721.87 L454.00 721.78 L454.60 721.81 L455.20 722.10 L455.80 722.49 L456.40 722.29 L456.35 722.31 L456.60 717.81 L456.85 722.31 L457.00 722.37 L457.60 722.37 L458.20 722.70 L458.80 723.22 L459.40 722.92 L460.00 722.82 L460.60 722.94 L461.20 723.16 L461.80 723.22 L462.40 724.25 L463.00 724.15 L463.60 724.10 L464.20 724.86 L464.80 724.24 L465.40 724.83 L466.00 724.95 L466.60 724.24 L467.20 724.34 L467.80 724.66 L468.40 725.40 L469.00 725.64 L469.60 724.86 L470.20 725.76 L470.80 725.36 L471.40 725.46 L472.00 725.55 L472.60 725.76 L472.85 725.99 L473.10 719.49 L473.35 725.99 L473.20 725.38 L473.80 725.80 L474.40 725.87 L475.00 726.63 L475.60 727.34 L475.75 726.71 L476.00 723.71 L476.25 726.71 L476.20 727.72 L476.80 726.80 L477.40 726.47 L478.00 727.08 L478.60 726.87 L479.20 727.69 L479.80 726.99 L480.40 726.32 L481.00 726.70 L481.60 726.36 L482.20 725.28 L482.80 725.29 L483.40 725.01 L484.00 724.72 L484.60 724.39 L485.20 723.84 L485.80 723.72 L486.40 723.14 L487.00 722.74 L487.60 723.28 L488.20 722.58 L488.80 722.30 L489.40 721.29 L490.00 721.49 L490.60 721.58 L491.20 720.82 L491.80 721.62 L492.40 721.08 L493.00 721.33 L493.60 721.11 L494.20 721.21 L494.80 721.52 L495.40 720.93 L496.00 721.59 L496.60 720.75 L497.20 720.67 L497.80 721.21 L498.40 720.56 L499.00 720.78 L499.60 721.19 L500.20 721.25 L500.80 720.16 L501.40 720.92 L502.00 721.36 L502.60 721.07 L503.20 720.53 L503.80 720.36 L504.40 720.42 L505.00 720.08 L505.60 720.34 L506.20 720.37 L506.80 720.62 L507.40 721.32 L508.00 721.07 L508.60 720.87 L509.20 721.99 L509.80 721.48 L510.40 721.93 L511.00 722.28 L511.60 722.44" fill="none" stroke="#ff0000" stroke-width="1.6" stroke-linejoin="round"/>
<path d="M295.00 786.39 L295.60 786.83 L296.20 786.51 L296.80 786.29 L297.40 786.64 L298.00 786.18 L298.60 785.91 L299.20 786.49 L299.80 785.54 L300.40 785.21 L301.00 785.37 L301.60 785.87 L302.20 786.48 L302.80 786.75 L303.40 787.05 L304.00 787.50 L304.60 787.65 L305.20 787.48 L305.80 787.93 L306.40 787.89 L307.00 787.66 L307.60 788.35 L308.20 788.00 L308.80 787.73 L309.40 788.33 L310.00 787.72 L310.60 787.10 L311.20 787.07 L311.80 787.75 L312.40 786.66 L313.00 786.83 L313.60 786.61 L314.20 786.50 L314.80 786.69 L315.40 786.46 L316.00 786.63 L316.60 786.96 L317.20 787.48 L317.80 788.49 L318.40 789.34 L319.00 789.08 L319.60 790.18 L320.20 790.23 L320.80 790.93 L321.40 790.98 L321.25 791.01 L321.50 794.51 L321.75 791.01 L322.00 790.86 L322.60 790.43 L323.20 789.42 L323.80 790.59 L324.40 789.92 L325.00 789.79 L325.00 790.00 L325.25 793.50 L325.50 790.00 L325.60 790.26 L326.20 789.81 L326.80 789.27 L327.40 789.47 L328.00 788.96 L328.60 788.03 L329.20 788.14 L329.80 787.81 L330.40 787.75 L331.00 789.25 L331.25 789.01 L331.50 801.01 L331.75 789.01 L331.60 789.20 L332.20 789.18 L332.80 790.21 L333.40 790.39 L334.00 791.00 L334.60 790.48 L335.20 791.63 L335.80 791.90 L336.40 792.12 L337.00 792.22 L337.60 792.56 L338.20 792.45 L338.80 792.33 L339.40 792.09 L340.00 792.87 L340.60 792.87 L340.65 792.50 L340.90 805.00 L341.15 792.50 L341.20 792.62 L341.80 792.57 L342.40 792.38 L343.00 790.44 L343.60 790.66 L344.20 789.23 L344.80 790.49 L345.40 791.67 L346.00 794.70 L346.60 796.58 L347.20 799.12 L347.25 798.81 L347.50 800.81 L347.75 798.81 L347.80 798.66 L348.40 797.61 L349.00 798.38 L349.60 797.37 L350.20 796.65 L350.80 795.55 L351.40 795.13 L352.00 794.55 L352.60 794.37 L353.20 791.40 L353.80 789.25 L354.40 786.77 L355.00 786.82 L355.60 786.90 L356.20 786.63 L356.80 787.45 L357.40 787.15 L358.00 786.46 L358.60 786.95 L359.20 787.32 L359.80 786.41 L360.40 786.97 L361.00 786.83 L361.60 787.74 L362.20 787.06 L362.80 786.74 L363.40 786.28 L364.00 786.75 L364.60 785.52 L365.20 786.09 L365.80 784.33 L366.40 784.42 L367.00 784.67 L367.60 784.90 L368.20 785.47 L368.80 786.20 L369.40 786.11 L370.00 786.24 L370.60 787.36 L371.20 787.35 L371.80 786.53 L372.40 786.82 L373.00 785.74 L373.60 786.97 L374.20 786.07 L374.80 786.29 L375.40 787.20 L376.00 785.92 L376.60 786.32 L377.20 785.88 L377.80 785.55 L378.40 785.73 L379.00 786.19 L379.60 785.57 L380.20 785.77 L380.80 786.18 L381.40 785.81 L382.00 785.34 L382.60 786.28 L383.20 785.73 L383.80 786.13 L384.40 785.27 L385.00 786.29 L385.60 785.25 L386.20 785.16 L386.80 785.67 L387.40 785.73 L388.00 786.00 L388.60 785.75 L389.20 786.22 L389.80 786.51 L390.40 785.85 L391.00 785.64 L391.60 786.03 L392.20 786.50 L392.80 786.55 L393.40 786.18 L394.00 785.99 L394.60 786.38 L395.20 786.74 L395.80 786.08 L396.40 786.73 L397.00 786.29 L397.60 786.25 L398.20 785.86 L398.80 786.51 L399.40 785.98 L400.00 785.37 L400.60 786.13 L401.20 785.63 L401.80 786.09 L402.40 785.71 L403.00 785.37 L403.60 785.59 L404.20 785.32 L404.80 785.17 L405.40 785.44 L406.00 785.71 L406.60 785.41 L407.20 785.32 L407.80 785.13 L408.40 785.50 L409.00 785.37 L409.60 785.58 L410.20 785.35 L410.80 785.94 L411.40 784.60 L412.00 785.11 L412.60 785.32 L413.20 785.50 L413.80 784.69 L414.40 784.84 L415.00 785.31 L415.60 785.75 L416.20 785.81 L416.80 784.94 L417.40 785.57 L418.00 785.99 L418.60 785.63 L419.20 785.30 L419.80 785.46 L420.40 785.29 L421.00 786.24 L421.60 785.72 L422.20 785.66 L422.80 785.51 L423.40 785.77 L424.00 785.49 L424.60 785.47 L425.20 785.80 L425.80 785.73 L426.40 785.98 L427.00 785.87 L427.60 786.23 L428.20 785.80 L428.80 785.91 L429.40 785.89 L430.00 785.55 L430.60 786.30 L431.20 785.72 L431.80 785.40 L432.40 786.44 L433.00 786.27 L433.60 785.88 L434.20 786.46 L434.80 786.51 L435.40 786.46 L436.00 785.83 L436.60 786.35 L437.20 785.96 L437.80 786.16 L438.40 786.22 L439.00 786.20 L439.60 786.75 L440.20 786.38 L440.80 786.97 L441.40 786.89 L442.00 786.70 L442.60 787.05 L443.20 787.32 L443.80 787.56 L444.40 787.15 L445.00 787.94 L445.60 787.61 L446.20 787.93 L446.80 787.10 L447.40 787.26 L448.00 788.09 L448.60 787.62 L449.20 787.90 L449.80 788.19 L450.40 787.29 L451.00 788.00 L451.60 788.56 L452.20 788.19 L452.80 787.97 L453.40 788.18 L454.00 788.01 L454.60 788.32 L455.20 788.54 L455.80 788.03 L456.40 788.25 L457.00 788.10 L457.60 788.19 L458.20 788.16 L458.80 787.42 L459.40 788.15 L460.00 787.98 L460.60 787.23 L461.20 787.45 L461.80 786.97 L462.40 787.32 L463.00 787.48 L463.60 786.89 L464.20 786.96 L464.80 786.98 L465.40 787.16 L466.00 787.25 L466.60 787.27 L467.20 787.96 L467.80 787.80 L468.40 787.71 L469.00 788.46 L469.60 788.03 L470.20 788.66 L470.80 788.03 L471.40 789.08 L472.00 788.54 L472.60 788.48 L473.20 789.06 L473.80 788.42 L474.40 788.49 L475.00 788.93 L475.60 788.66 L476.20 788.95 L476.80 788.84 L477.40 788.85 L478.00 788.79 L478.60 788.98 L479.20 788.70 L479.80 789.07 L480.40 789.00 L481.00 787.95 L481.60 788.00 L482.20 789.19 L482.80 788.54 L483.40 788.81 L484.00 788.75 L484.60 788.94 L485.20 789.66 L485.80 788.69 L486.40 789.01 L487.00 789.03 L487.60 788.70 L488.20 788.82 L488.80 789.08 L489.40 789.22 L490.00 789.41 L490.60 788.63 L491.20 788.80 L491.80 789.97 L492.40 789.36 L493.00 789.75 L493.60 789.34 L494.20 789.28 L494.80 790.30 L495.40 789.16 L496.00 789.31 L496.60 789.90 L497.20 789.70 L497.80 789.16 L498.40 789.82 L499.00 790.06 L499.60 789.22 L500.20 789.48 L500.80 789.87 L501.40 790.19 L502.00 788.61 L502.60 789.11 L503.20 789.28 L503.80 788.87 L504.40 788.79 L505.00 788.85 L505.60 789.12 L506.20 788.49 L506.80 789.08 L507.40 788.99 L508.00 788.92 L508.60 789.07 L509.20 788.27 L509.80 788.35 L510.40 788.64 L511.00 788.65 L511.60 788.46" fill="none" stroke="#0000cc" stroke-width="1.6" stroke-linejoin="round"/>
<text font-family="Liberation Serif" stroke="#fff" stroke-width="0.14" font-size="20.50" fill="#ff0000" transform="translate(373.62 742.50) scale(1.2126 1)" ><tspan >11.1 GPa</tspan></text>
<text font-family="Liberation Serif" stroke="#fff" stroke-width="0.14" font-size="20.50" fill="#0000cc" transform="translate(373.62 806.70) scale(1.2126 1)" ><tspan >11.5 GPa</tspan></text>
</svg>
</body></html>
